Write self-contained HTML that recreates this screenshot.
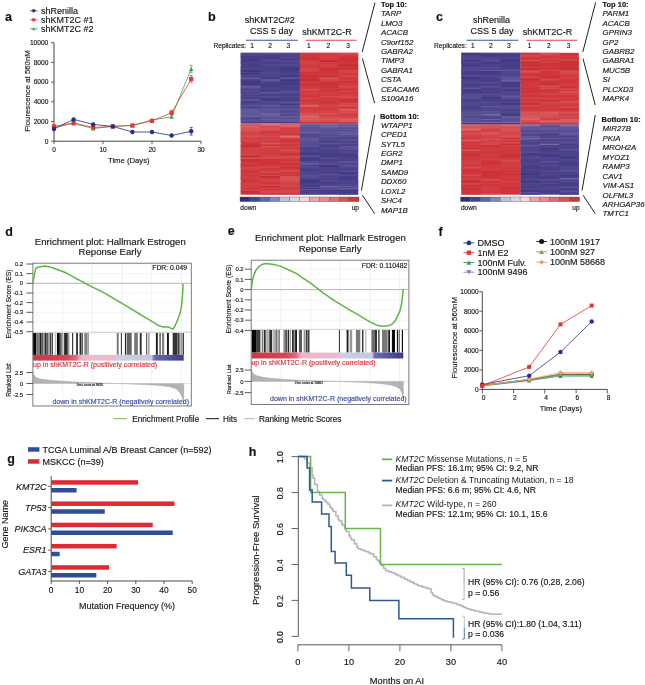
<!DOCTYPE html>
<html><head><meta charset="utf-8"><title>Figure</title>
<style>
html,body{margin:0;padding:0;background:#fff;width:645px;height:685px;overflow:hidden}
svg{display:block;filter:blur(0.4px)}
text{font-family:"Liberation Sans", sans-serif}
</style></head>
<body>
<svg width="645" height="685" viewBox="0 0 645 685">
<rect x="0" y="0" width="645" height="685" fill="#fff"/>
<text x="5.0" y="21.0" font-size="12.5" font-weight="bold" fill="#111" stroke="#111" stroke-width="0.15">a</text>
<line x1="30.0" y1="10.8" x2="37.5" y2="10.8" stroke="#262f86" stroke-width="0.8"/>
<circle cx="33.7" cy="10.8" r="1.7" fill="#262f86"/>
<text x="41.0" y="14.0" font-size="9" fill="#161616" stroke="#161616" stroke-width="0.15">shRenilla</text>
<line x1="30.0" y1="19.8" x2="37.5" y2="19.8" stroke="#e03a35" stroke-width="0.8"/>
<rect x="32.20" y="18.30" width="3.00" height="3.00" fill="#e03a35"/>
<text x="41.0" y="23.0" font-size="9" fill="#161616" stroke="#161616" stroke-width="0.15">shKMT2C #1</text>
<line x1="30.0" y1="28.8" x2="37.5" y2="28.8" stroke="#3f9d5b" stroke-width="0.8"/>
<polygon points="32.1,30.3 35.4,30.3 33.7,27.3" fill="#3f9d5b"/>
<text x="41.0" y="32.0" font-size="9" fill="#161616" stroke="#161616" stroke-width="0.15">shKMT2C #2</text>
<line x1="54.0" y1="42.7" x2="54.0" y2="141.2" stroke="#333" stroke-width="0.9"/>
<line x1="54.0" y1="141.2" x2="201.0" y2="141.2" stroke="#333" stroke-width="0.9"/>
<line x1="51.0" y1="141.2" x2="54.0" y2="141.2" stroke="#333" stroke-width="0.8"/>
<text x="48.3" y="143.5" font-size="6.6" text-anchor="end" fill="#161616" stroke="#161616" stroke-width="0.15">0</text>
<line x1="51.0" y1="121.5" x2="54.0" y2="121.5" stroke="#333" stroke-width="0.8"/>
<text x="48.3" y="123.8" font-size="6.6" text-anchor="end" fill="#161616" stroke="#161616" stroke-width="0.15">2000</text>
<line x1="51.0" y1="101.8" x2="54.0" y2="101.8" stroke="#333" stroke-width="0.8"/>
<text x="48.3" y="104.1" font-size="6.6" text-anchor="end" fill="#161616" stroke="#161616" stroke-width="0.15">4000</text>
<line x1="51.0" y1="82.1" x2="54.0" y2="82.1" stroke="#333" stroke-width="0.8"/>
<text x="48.3" y="84.4" font-size="6.6" text-anchor="end" fill="#161616" stroke="#161616" stroke-width="0.15">6000</text>
<line x1="51.0" y1="62.4" x2="54.0" y2="62.4" stroke="#333" stroke-width="0.8"/>
<text x="48.3" y="64.7" font-size="6.6" text-anchor="end" fill="#161616" stroke="#161616" stroke-width="0.15">8000</text>
<line x1="51.0" y1="42.7" x2="54.0" y2="42.7" stroke="#333" stroke-width="0.8"/>
<text x="48.3" y="45.0" font-size="6.6" text-anchor="end" fill="#161616" stroke="#161616" stroke-width="0.15">10000</text>
<line x1="54.0" y1="141.2" x2="54.0" y2="144.2" stroke="#333" stroke-width="0.8"/>
<text x="54.0" y="152.0" font-size="6.5" text-anchor="middle" fill="#161616" stroke="#161616" stroke-width="0.15">0</text>
<line x1="103.0" y1="141.2" x2="103.0" y2="144.2" stroke="#333" stroke-width="0.8"/>
<text x="103.0" y="152.0" font-size="6.5" text-anchor="middle" fill="#161616" stroke="#161616" stroke-width="0.15">10</text>
<line x1="152.0" y1="141.2" x2="152.0" y2="144.2" stroke="#333" stroke-width="0.8"/>
<text x="152.0" y="152.0" font-size="6.5" text-anchor="middle" fill="#161616" stroke="#161616" stroke-width="0.15">20</text>
<line x1="201.0" y1="141.2" x2="201.0" y2="144.2" stroke="#333" stroke-width="0.8"/>
<text x="201.0" y="152.0" font-size="6.5" text-anchor="middle" fill="#161616" stroke="#161616" stroke-width="0.15">30</text>
<text x="128.8" y="163.0" font-size="7.7" text-anchor="middle" fill="#161616" stroke="#161616" stroke-width="0.15">Time (Days)</text>
<text x="30.0" y="91.0" font-size="7.8" text-anchor="middle" fill="#161616" stroke="#161616" stroke-width="0.15" transform="rotate(-90 30.0 91.0)">Flourescence at 560nM</text>
<polyline points="54.0,127.5 73.6,123.4 93.2,128.5 112.8,126.4 132.4,125.4 152.0,119.9 171.6,116.9 191.2,68.9" fill="none" stroke="#3f9d5b" stroke-width="0.8"/>
<polygon points="51.8,129.4 56.2,129.4 54.0,125.5" fill="#3f9d5b"/>
<polygon points="71.4,125.4 75.8,125.4 73.6,121.4" fill="#3f9d5b"/>
<polygon points="91.0,130.4 95.4,130.4 93.2,126.5" fill="#3f9d5b"/>
<polygon points="110.6,128.4 115.0,128.4 112.8,124.5" fill="#3f9d5b"/>
<polygon points="130.2,127.4 134.6,127.4 132.4,123.5" fill="#3f9d5b"/>
<polygon points="149.8,121.9 154.2,121.9 152.0,117.9" fill="#3f9d5b"/>
<polygon points="169.4,118.8 173.8,118.8 171.6,114.9" fill="#3f9d5b"/>
<polygon points="189.0,70.9 193.4,70.9 191.2,66.9" fill="#3f9d5b"/>
<polyline points="54.0,126.4 73.6,122.9 93.2,127.5 112.8,126.4 132.4,125.4 152.0,120.9 171.6,112.8 191.2,79.0" fill="none" stroke="#e03a35" stroke-width="0.8"/>
<rect x="51.90" y="124.35" width="4.20" height="4.20" fill="#e03a35"/>
<rect x="71.50" y="120.81" width="4.20" height="4.20" fill="#e03a35"/>
<rect x="91.10" y="125.36" width="4.20" height="4.20" fill="#e03a35"/>
<rect x="110.70" y="124.35" width="4.20" height="4.20" fill="#e03a35"/>
<rect x="130.30" y="123.34" width="4.20" height="4.20" fill="#e03a35"/>
<rect x="149.90" y="118.80" width="4.20" height="4.20" fill="#e03a35"/>
<rect x="169.50" y="110.72" width="4.20" height="4.20" fill="#e03a35"/>
<rect x="189.10" y="76.88" width="4.20" height="4.20" fill="#e03a35"/>
<polyline points="54.0,129.0 73.6,119.4 93.2,124.4 112.8,126.4 132.4,132.0 152.0,132.0 171.6,135.5 191.2,131.3" fill="none" stroke="#262f86" stroke-width="0.8"/>
<circle cx="54.0" cy="129.0" r="2.2" fill="#262f86"/>
<circle cx="73.6" cy="119.4" r="2.2" fill="#262f86"/>
<circle cx="93.2" cy="124.4" r="2.2" fill="#262f86"/>
<circle cx="112.8" cy="126.4" r="2.2" fill="#262f86"/>
<circle cx="132.4" cy="132.0" r="2.2" fill="#262f86"/>
<circle cx="152.0" cy="132.0" r="2.2" fill="#262f86"/>
<circle cx="171.6" cy="135.5" r="2.2" fill="#262f86"/>
<circle cx="191.2" cy="131.3" r="2.2" fill="#262f86"/>
<line x1="191.2" y1="135.1" x2="191.2" y2="127.5" stroke="#262f86" stroke-width="0.7"/>
<line x1="189.7" y1="127.5" x2="192.7" y2="127.5" stroke="#262f86" stroke-width="0.7"/>
<line x1="189.7" y1="135.1" x2="192.7" y2="135.1" stroke="#262f86" stroke-width="0.7"/>
<line x1="191.2" y1="82.3" x2="191.2" y2="75.6" stroke="#e03a35" stroke-width="0.7"/>
<line x1="189.7" y1="75.6" x2="192.7" y2="75.6" stroke="#e03a35" stroke-width="0.7"/>
<line x1="189.7" y1="82.3" x2="192.7" y2="82.3" stroke="#e03a35" stroke-width="0.7"/>
<line x1="191.2" y1="72.4" x2="191.2" y2="65.3" stroke="#3f9d5b" stroke-width="0.7"/>
<line x1="189.7" y1="65.3" x2="192.7" y2="65.3" stroke="#3f9d5b" stroke-width="0.7"/>
<line x1="189.7" y1="72.4" x2="192.7" y2="72.4" stroke="#3f9d5b" stroke-width="0.7"/>
<line x1="171.6" y1="115.3" x2="171.6" y2="110.3" stroke="#e03a35" stroke-width="0.7"/>
<line x1="170.1" y1="110.3" x2="173.1" y2="110.3" stroke="#e03a35" stroke-width="0.7"/>
<line x1="170.1" y1="115.3" x2="173.1" y2="115.3" stroke="#e03a35" stroke-width="0.7"/>
<text x="208.0" y="21.0" font-size="12.5" font-weight="bold" fill="#111" stroke="#111" stroke-width="0.15">b</text>
<text x="269.8" y="23.0" font-size="9" text-anchor="middle" fill="#161616" stroke="#161616" stroke-width="0.15">shKMT2C#2</text>
<text x="271.5" y="33.9" font-size="9" text-anchor="middle" fill="#161616" stroke="#161616" stroke-width="0.15">CSS 5 day</text>
<text x="327.0" y="35.0" font-size="9" text-anchor="middle" fill="#161616" stroke="#161616" stroke-width="0.15">shKMT2C-R</text>
<line x1="246.0" y1="40.2" x2="297.8" y2="40.2" stroke="#3f55a5" stroke-width="1.1"/>
<line x1="305.8" y1="40.2" x2="356.8" y2="40.2" stroke="#e0494c" stroke-width="1.1"/>
<text x="213.5" y="48.3" font-size="6.6" fill="#161616" stroke="#161616" stroke-width="0.15">Replicates:</text>
<text x="252.2" y="48.3" font-size="6.6" text-anchor="middle" fill="#161616" stroke="#161616" stroke-width="0.15">1</text>
<text x="270.2" y="48.3" font-size="6.6" text-anchor="middle" fill="#161616" stroke="#161616" stroke-width="0.15">2</text>
<text x="288.3" y="48.3" font-size="6.6" text-anchor="middle" fill="#161616" stroke="#161616" stroke-width="0.15">3</text>
<text x="308.9" y="48.3" font-size="6.6" text-anchor="middle" fill="#161616" stroke="#161616" stroke-width="0.15">1</text>
<text x="328.3" y="48.3" font-size="6.6" text-anchor="middle" fill="#161616" stroke="#161616" stroke-width="0.15">2</text>
<text x="348.0" y="48.3" font-size="6.6" text-anchor="middle" fill="#161616" stroke="#161616" stroke-width="0.15">3</text>
<rect x="240.70" y="52.80" width="59.20" height="70.70" fill="#463c88"/>
<rect x="299.90" y="52.80" width="58.30" height="70.70" fill="#d03438"/>
<rect x="240.70" y="123.50" width="59.20" height="71.20" fill="#d03438"/>
<rect x="299.90" y="123.50" width="58.30" height="71.20" fill="#463c88"/>
<rect x="240.70" y="52.80" width="19.73" height="2.00" fill="#52488f"/>
<rect x="260.43" y="52.80" width="19.73" height="2.00" fill="#544b91"/>
<rect x="280.17" y="52.80" width="19.73" height="2.00" fill="#51478f"/>
<rect x="299.90" y="52.80" width="19.43" height="2.00" fill="#d0383c"/>
<rect x="319.33" y="52.80" width="19.43" height="2.00" fill="#d13c40"/>
<rect x="338.77" y="52.80" width="19.43" height="2.00" fill="#d4494c"/>
<rect x="240.70" y="54.80" width="19.73" height="1.00" fill="#584f93"/>
<rect x="280.17" y="54.80" width="19.73" height="1.00" fill="#51478f"/>
<rect x="319.33" y="54.80" width="19.43" height="1.00" fill="#d34448"/>
<rect x="338.77" y="54.80" width="19.43" height="1.00" fill="#d23c40"/>
<rect x="240.70" y="55.80" width="19.73" height="1.00" fill="#423981"/>
<rect x="280.17" y="55.80" width="19.73" height="1.00" fill="#4c428b"/>
<rect x="299.90" y="55.80" width="19.43" height="1.00" fill="#d23e42"/>
<rect x="319.33" y="55.80" width="19.43" height="1.00" fill="#d13b3f"/>
<rect x="240.70" y="56.80" width="19.73" height="1.00" fill="#554b91"/>
<rect x="280.17" y="56.80" width="19.73" height="1.00" fill="#564c92"/>
<rect x="299.90" y="56.80" width="19.43" height="1.00" fill="#c33034"/>
<rect x="319.33" y="56.80" width="19.43" height="1.00" fill="#d54b4e"/>
<rect x="338.77" y="56.80" width="19.43" height="1.00" fill="#d24044"/>
<rect x="240.70" y="57.80" width="19.73" height="1.00" fill="#443a84"/>
<rect x="260.43" y="57.80" width="19.73" height="1.00" fill="#443a84"/>
<rect x="280.17" y="57.80" width="19.73" height="1.00" fill="#50478e"/>
<rect x="299.90" y="57.80" width="19.43" height="1.00" fill="#d23d41"/>
<rect x="319.33" y="57.80" width="19.43" height="1.00" fill="#d1383c"/>
<rect x="338.77" y="57.80" width="19.43" height="1.00" fill="#c63135"/>
<rect x="260.43" y="58.80" width="19.73" height="1.50" fill="#524990"/>
<rect x="299.90" y="58.80" width="19.43" height="1.50" fill="#cb3236"/>
<rect x="319.33" y="58.80" width="19.43" height="1.50" fill="#d13b3f"/>
<rect x="338.77" y="58.80" width="19.43" height="1.50" fill="#c83236"/>
<rect x="240.70" y="60.30" width="19.73" height="2.00" fill="#443a85"/>
<rect x="260.43" y="60.30" width="19.73" height="2.00" fill="#50468e"/>
<rect x="280.17" y="60.30" width="19.73" height="2.00" fill="#524990"/>
<rect x="299.90" y="60.30" width="19.43" height="2.00" fill="#d34144"/>
<rect x="319.33" y="60.30" width="19.43" height="2.00" fill="#be2f33"/>
<rect x="240.70" y="62.30" width="19.73" height="1.00" fill="#524990"/>
<rect x="299.90" y="62.30" width="19.43" height="1.00" fill="#d4494c"/>
<rect x="319.33" y="62.30" width="19.43" height="1.00" fill="#d34448"/>
<rect x="240.70" y="63.30" width="19.73" height="1.00" fill="#4b428b"/>
<rect x="280.17" y="63.30" width="19.73" height="1.00" fill="#524990"/>
<rect x="299.90" y="63.30" width="19.43" height="1.00" fill="#d34347"/>
<rect x="338.77" y="63.30" width="19.43" height="1.00" fill="#d23e41"/>
<rect x="260.43" y="64.30" width="19.73" height="2.00" fill="#51488f"/>
<rect x="280.17" y="64.30" width="19.73" height="2.00" fill="#554c92"/>
<rect x="299.90" y="64.30" width="19.43" height="2.00" fill="#d23d41"/>
<rect x="319.33" y="64.30" width="19.43" height="2.00" fill="#d24044"/>
<rect x="338.77" y="64.30" width="19.43" height="2.00" fill="#c03033"/>
<rect x="240.70" y="66.30" width="19.73" height="1.50" fill="#4a408a"/>
<rect x="260.43" y="66.30" width="19.73" height="1.50" fill="#4a418b"/>
<rect x="280.17" y="66.30" width="19.73" height="1.50" fill="#4a408a"/>
<rect x="299.90" y="66.30" width="19.43" height="1.50" fill="#d1393c"/>
<rect x="319.33" y="66.30" width="19.43" height="1.50" fill="#d34246"/>
<rect x="338.77" y="66.30" width="19.43" height="1.50" fill="#d1393d"/>
<rect x="240.70" y="67.80" width="19.73" height="2.00" fill="#4f468e"/>
<rect x="260.43" y="67.80" width="19.73" height="2.00" fill="#4d438c"/>
<rect x="280.17" y="67.80" width="19.73" height="2.00" fill="#433982"/>
<rect x="299.90" y="67.80" width="19.43" height="2.00" fill="#d4484c"/>
<rect x="319.33" y="67.80" width="19.43" height="2.00" fill="#c83236"/>
<rect x="338.77" y="67.80" width="19.43" height="2.00" fill="#c93236"/>
<rect x="240.70" y="69.80" width="19.73" height="2.00" fill="#41387f"/>
<rect x="260.43" y="69.80" width="19.73" height="2.00" fill="#4b428b"/>
<rect x="299.90" y="69.80" width="19.43" height="2.00" fill="#d34448"/>
<rect x="338.77" y="69.80" width="19.43" height="2.00" fill="#d34548"/>
<rect x="240.70" y="71.80" width="19.73" height="1.50" fill="#4c438c"/>
<rect x="260.43" y="71.80" width="19.73" height="1.50" fill="#50478f"/>
<rect x="338.77" y="71.80" width="19.43" height="1.50" fill="#d34448"/>
<rect x="240.70" y="73.30" width="19.73" height="1.50" fill="#41387f"/>
<rect x="260.43" y="73.30" width="19.73" height="1.50" fill="#544b91"/>
<rect x="280.17" y="73.30" width="19.73" height="1.50" fill="#534990"/>
<rect x="319.33" y="73.30" width="19.43" height="1.50" fill="#d34144"/>
<rect x="338.77" y="73.30" width="19.43" height="1.50" fill="#d23e42"/>
<rect x="240.70" y="74.80" width="19.73" height="1.00" fill="#5a5195"/>
<rect x="260.43" y="74.80" width="19.73" height="1.00" fill="#4c438c"/>
<rect x="280.17" y="74.80" width="19.73" height="1.00" fill="#443a84"/>
<rect x="319.33" y="74.80" width="19.43" height="1.00" fill="#d13b3f"/>
<rect x="338.77" y="74.80" width="19.43" height="1.00" fill="#d34245"/>
<rect x="260.43" y="75.80" width="19.73" height="1.50" fill="#4e448d"/>
<rect x="299.90" y="75.80" width="19.43" height="1.50" fill="#cb3236"/>
<rect x="319.33" y="75.80" width="19.43" height="1.50" fill="#c83235"/>
<rect x="338.77" y="75.80" width="19.43" height="1.50" fill="#d5494d"/>
<rect x="240.70" y="77.30" width="19.73" height="2.00" fill="#615899"/>
<rect x="280.17" y="77.30" width="19.73" height="2.00" fill="#5c5396"/>
<rect x="319.33" y="77.30" width="19.43" height="2.00" fill="#d75458"/>
<rect x="240.70" y="79.30" width="19.73" height="1.50" fill="#50468e"/>
<rect x="260.43" y="79.30" width="19.73" height="1.50" fill="#6b639f"/>
<rect x="280.17" y="79.30" width="19.73" height="1.50" fill="#433a83"/>
<rect x="299.90" y="79.30" width="19.43" height="1.50" fill="#b92e31"/>
<rect x="319.33" y="79.30" width="19.43" height="1.50" fill="#d4474b"/>
<rect x="338.77" y="79.30" width="19.43" height="1.50" fill="#d34246"/>
<rect x="240.70" y="80.80" width="19.73" height="1.00" fill="#423981"/>
<rect x="260.43" y="80.80" width="19.73" height="1.00" fill="#564d92"/>
<rect x="299.90" y="80.80" width="19.43" height="1.00" fill="#d1393d"/>
<rect x="319.33" y="80.80" width="19.43" height="1.00" fill="#d34246"/>
<rect x="338.77" y="80.80" width="19.43" height="1.00" fill="#d1393d"/>
<rect x="260.43" y="81.80" width="19.73" height="1.00" fill="#52498f"/>
<rect x="299.90" y="81.80" width="19.43" height="1.00" fill="#d34246"/>
<rect x="338.77" y="81.80" width="19.43" height="1.00" fill="#c43134"/>
<rect x="240.70" y="82.80" width="19.73" height="2.00" fill="#423881"/>
<rect x="280.17" y="82.80" width="19.73" height="2.00" fill="#443a84"/>
<rect x="319.33" y="82.80" width="19.43" height="2.00" fill="#ca3236"/>
<rect x="338.77" y="82.80" width="19.43" height="2.00" fill="#d23d41"/>
<rect x="280.17" y="84.80" width="19.73" height="1.00" fill="#4c428c"/>
<rect x="299.90" y="84.80" width="19.43" height="1.00" fill="#ca3236"/>
<rect x="319.33" y="84.80" width="19.43" height="1.00" fill="#d13a3e"/>
<rect x="338.77" y="84.80" width="19.43" height="1.00" fill="#d13a3e"/>
<rect x="240.70" y="85.80" width="19.73" height="2.00" fill="#655d9c"/>
<rect x="280.17" y="85.80" width="19.73" height="2.00" fill="#4b418b"/>
<rect x="299.90" y="85.80" width="19.43" height="2.00" fill="#d23f43"/>
<rect x="319.33" y="85.80" width="19.43" height="2.00" fill="#cb3236"/>
<rect x="338.77" y="85.80" width="19.43" height="2.00" fill="#d54d50"/>
<rect x="240.70" y="87.80" width="19.73" height="1.00" fill="#595094"/>
<rect x="260.43" y="87.80" width="19.73" height="1.00" fill="#544a91"/>
<rect x="280.17" y="87.80" width="19.73" height="1.00" fill="#4b418b"/>
<rect x="299.90" y="87.80" width="19.43" height="1.00" fill="#d1393d"/>
<rect x="319.33" y="87.80" width="19.43" height="1.00" fill="#d23e42"/>
<rect x="338.77" y="87.80" width="19.43" height="1.00" fill="#d23e42"/>
<rect x="240.70" y="88.80" width="19.73" height="2.00" fill="#50478f"/>
<rect x="280.17" y="88.80" width="19.73" height="2.00" fill="#4a408a"/>
<rect x="299.90" y="88.80" width="19.43" height="2.00" fill="#d64f52"/>
<rect x="240.70" y="90.80" width="19.73" height="1.00" fill="#595094"/>
<rect x="280.17" y="90.80" width="19.73" height="1.00" fill="#605798"/>
<rect x="319.33" y="90.80" width="19.43" height="1.00" fill="#d1393c"/>
<rect x="338.77" y="90.80" width="19.43" height="1.00" fill="#d75659"/>
<rect x="240.70" y="91.80" width="19.73" height="2.00" fill="#4f468e"/>
<rect x="260.43" y="91.80" width="19.73" height="2.00" fill="#605798"/>
<rect x="280.17" y="91.80" width="19.73" height="2.00" fill="#544b91"/>
<rect x="299.90" y="91.80" width="19.43" height="2.00" fill="#d34246"/>
<rect x="319.33" y="91.80" width="19.43" height="2.00" fill="#d23f43"/>
<rect x="338.77" y="91.80" width="19.43" height="2.00" fill="#d1383c"/>
<rect x="240.70" y="93.80" width="19.73" height="1.00" fill="#5b5396"/>
<rect x="260.43" y="93.80" width="19.73" height="1.00" fill="#4a408a"/>
<rect x="280.17" y="93.80" width="19.73" height="1.00" fill="#4e448d"/>
<rect x="299.90" y="93.80" width="19.43" height="1.00" fill="#d23f43"/>
<rect x="319.33" y="93.80" width="19.43" height="1.00" fill="#d34145"/>
<rect x="338.77" y="93.80" width="19.43" height="1.00" fill="#d34448"/>
<rect x="299.90" y="94.80" width="19.43" height="1.00" fill="#d1383c"/>
<rect x="338.77" y="94.80" width="19.43" height="1.00" fill="#d34448"/>
<rect x="240.70" y="95.80" width="19.73" height="1.50" fill="#51488f"/>
<rect x="260.43" y="95.80" width="19.73" height="1.50" fill="#544b91"/>
<rect x="280.17" y="95.80" width="19.73" height="1.50" fill="#534a90"/>
<rect x="319.33" y="95.80" width="19.43" height="1.50" fill="#d54b4e"/>
<rect x="338.77" y="95.80" width="19.43" height="1.50" fill="#d4464a"/>
<rect x="240.70" y="97.30" width="19.73" height="1.00" fill="#51478f"/>
<rect x="260.43" y="97.30" width="19.73" height="1.00" fill="#5a5195"/>
<rect x="280.17" y="97.30" width="19.73" height="1.00" fill="#4c428b"/>
<rect x="299.90" y="97.30" width="19.43" height="1.00" fill="#d34246"/>
<rect x="319.33" y="97.30" width="19.43" height="1.00" fill="#d23f43"/>
<rect x="338.77" y="97.30" width="19.43" height="1.00" fill="#d8595c"/>
<rect x="260.43" y="98.30" width="19.73" height="1.00" fill="#3f367b"/>
<rect x="280.17" y="98.30" width="19.73" height="1.00" fill="#51478f"/>
<rect x="299.90" y="98.30" width="19.43" height="1.00" fill="#d64e51"/>
<rect x="319.33" y="98.30" width="19.43" height="1.00" fill="#d34145"/>
<rect x="338.77" y="98.30" width="19.43" height="1.00" fill="#d1393d"/>
<rect x="240.70" y="99.30" width="19.73" height="1.50" fill="#635a9a"/>
<rect x="260.43" y="99.30" width="19.73" height="1.50" fill="#443a84"/>
<rect x="280.17" y="99.30" width="19.73" height="1.50" fill="#4c428b"/>
<rect x="319.33" y="99.30" width="19.43" height="1.50" fill="#d13b3f"/>
<rect x="338.77" y="99.30" width="19.43" height="1.50" fill="#cb3236"/>
<rect x="260.43" y="100.80" width="19.73" height="1.00" fill="#51488f"/>
<rect x="280.17" y="100.80" width="19.73" height="1.00" fill="#4f458e"/>
<rect x="299.90" y="100.80" width="19.43" height="1.00" fill="#d13c40"/>
<rect x="319.33" y="100.80" width="19.43" height="1.00" fill="#d24044"/>
<rect x="338.77" y="100.80" width="19.43" height="1.00" fill="#cb3236"/>
<rect x="240.70" y="101.80" width="19.73" height="1.00" fill="#4b428b"/>
<rect x="260.43" y="101.80" width="19.73" height="1.00" fill="#595094"/>
<rect x="280.17" y="101.80" width="19.73" height="1.00" fill="#68609e"/>
<rect x="299.90" y="101.80" width="19.43" height="1.00" fill="#d4474b"/>
<rect x="319.33" y="101.80" width="19.43" height="1.00" fill="#ca3236"/>
<rect x="338.77" y="101.80" width="19.43" height="1.00" fill="#d23c40"/>
<rect x="240.70" y="102.80" width="19.73" height="1.00" fill="#51488f"/>
<rect x="260.43" y="102.80" width="19.73" height="1.00" fill="#4e458d"/>
<rect x="280.17" y="102.80" width="19.73" height="1.00" fill="#564d92"/>
<rect x="299.90" y="102.80" width="19.43" height="1.00" fill="#d23d41"/>
<rect x="319.33" y="102.80" width="19.43" height="1.00" fill="#d13b3f"/>
<rect x="338.77" y="102.80" width="19.43" height="1.00" fill="#d64e52"/>
<rect x="240.70" y="103.80" width="19.73" height="1.00" fill="#524990"/>
<rect x="260.43" y="103.80" width="19.73" height="1.00" fill="#564d92"/>
<rect x="280.17" y="103.80" width="19.73" height="1.00" fill="#433982"/>
<rect x="299.90" y="103.80" width="19.43" height="1.00" fill="#d34346"/>
<rect x="319.33" y="103.80" width="19.43" height="1.00" fill="#d24044"/>
<rect x="338.77" y="103.80" width="19.43" height="1.00" fill="#d4494d"/>
<rect x="240.70" y="104.80" width="19.73" height="2.00" fill="#5a5195"/>
<rect x="260.43" y="104.80" width="19.73" height="2.00" fill="#605899"/>
<rect x="280.17" y="104.80" width="19.73" height="2.00" fill="#584f94"/>
<rect x="299.90" y="104.80" width="19.43" height="2.00" fill="#da6366"/>
<rect x="319.33" y="104.80" width="19.43" height="2.00" fill="#d34448"/>
<rect x="338.77" y="104.80" width="19.43" height="2.00" fill="#d64f53"/>
<rect x="240.70" y="106.80" width="19.73" height="1.00" fill="#51478f"/>
<rect x="260.43" y="106.80" width="19.73" height="1.00" fill="#5b5396"/>
<rect x="280.17" y="106.80" width="19.73" height="1.00" fill="#564d92"/>
<rect x="299.90" y="106.80" width="19.43" height="1.00" fill="#d4494c"/>
<rect x="319.33" y="106.80" width="19.43" height="1.00" fill="#d34144"/>
<rect x="240.70" y="107.80" width="19.73" height="1.00" fill="#554b91"/>
<rect x="260.43" y="107.80" width="19.73" height="1.00" fill="#5b5295"/>
<rect x="280.17" y="107.80" width="19.73" height="1.00" fill="#595094"/>
<rect x="319.33" y="107.80" width="19.43" height="1.00" fill="#d24044"/>
<rect x="338.77" y="107.80" width="19.43" height="1.00" fill="#d23e41"/>
<rect x="240.70" y="108.80" width="19.73" height="2.00" fill="#645c9b"/>
<rect x="260.43" y="108.80" width="19.73" height="2.00" fill="#615899"/>
<rect x="280.17" y="108.80" width="19.73" height="2.00" fill="#5c5396"/>
<rect x="299.90" y="108.80" width="19.43" height="2.00" fill="#d34347"/>
<rect x="319.33" y="108.80" width="19.43" height="2.00" fill="#d24044"/>
<rect x="338.77" y="108.80" width="19.43" height="2.00" fill="#d95e61"/>
<rect x="240.70" y="110.80" width="19.73" height="1.00" fill="#68609e"/>
<rect x="260.43" y="110.80" width="19.73" height="1.00" fill="#605899"/>
<rect x="280.17" y="110.80" width="19.73" height="1.00" fill="#564d92"/>
<rect x="299.90" y="110.80" width="19.43" height="1.00" fill="#d34346"/>
<rect x="319.33" y="110.80" width="19.43" height="1.00" fill="#d54c4f"/>
<rect x="338.77" y="110.80" width="19.43" height="1.00" fill="#d54d51"/>
<rect x="240.70" y="111.80" width="19.73" height="1.00" fill="#6d65a1"/>
<rect x="260.43" y="111.80" width="19.73" height="1.00" fill="#595094"/>
<rect x="280.17" y="111.80" width="19.73" height="1.00" fill="#564d92"/>
<rect x="299.90" y="111.80" width="19.43" height="1.00" fill="#d44649"/>
<rect x="319.33" y="111.80" width="19.43" height="1.00" fill="#d34145"/>
<rect x="338.77" y="111.80" width="19.43" height="1.00" fill="#da5f62"/>
<rect x="240.70" y="112.80" width="19.73" height="1.50" fill="#5f5698"/>
<rect x="260.43" y="112.80" width="19.73" height="1.50" fill="#7169a3"/>
<rect x="280.17" y="112.80" width="19.73" height="1.50" fill="#5f5698"/>
<rect x="299.90" y="112.80" width="19.43" height="1.50" fill="#d64f52"/>
<rect x="319.33" y="112.80" width="19.43" height="1.50" fill="#d85a5d"/>
<rect x="338.77" y="112.80" width="19.43" height="1.50" fill="#d34448"/>
<rect x="240.70" y="114.30" width="19.73" height="1.50" fill="#685f9d"/>
<rect x="260.43" y="114.30" width="19.73" height="1.50" fill="#736ba5"/>
<rect x="280.17" y="114.30" width="19.73" height="1.50" fill="#534a90"/>
<rect x="299.90" y="114.30" width="19.43" height="1.50" fill="#d95e61"/>
<rect x="319.33" y="114.30" width="19.43" height="1.50" fill="#d4484b"/>
<rect x="338.77" y="114.30" width="19.43" height="1.50" fill="#d34447"/>
<rect x="240.70" y="115.80" width="19.73" height="1.50" fill="#665e9d"/>
<rect x="260.43" y="115.80" width="19.73" height="1.50" fill="#635a9a"/>
<rect x="280.17" y="115.80" width="19.73" height="1.50" fill="#645c9b"/>
<rect x="299.90" y="115.80" width="19.43" height="1.50" fill="#dc686b"/>
<rect x="319.33" y="115.80" width="19.43" height="1.50" fill="#d4494c"/>
<rect x="338.77" y="115.80" width="19.43" height="1.50" fill="#d44549"/>
<rect x="240.70" y="117.30" width="19.73" height="1.00" fill="#595094"/>
<rect x="260.43" y="117.30" width="19.73" height="1.00" fill="#605899"/>
<rect x="280.17" y="117.30" width="19.73" height="1.00" fill="#62599a"/>
<rect x="299.90" y="117.30" width="19.43" height="1.00" fill="#dc6a6d"/>
<rect x="319.33" y="117.30" width="19.43" height="1.00" fill="#d95b5e"/>
<rect x="338.77" y="117.30" width="19.43" height="1.00" fill="#d64e51"/>
<rect x="240.70" y="118.30" width="19.73" height="2.00" fill="#554b91"/>
<rect x="260.43" y="118.30" width="19.73" height="2.00" fill="#665e9c"/>
<rect x="280.17" y="118.30" width="19.73" height="2.00" fill="#625a9a"/>
<rect x="299.90" y="118.30" width="19.43" height="2.00" fill="#da6063"/>
<rect x="319.33" y="118.30" width="19.43" height="2.00" fill="#d95c5f"/>
<rect x="338.77" y="118.30" width="19.43" height="2.00" fill="#da6165"/>
<rect x="240.70" y="120.30" width="19.73" height="1.50" fill="#605899"/>
<rect x="260.43" y="120.30" width="19.73" height="1.50" fill="#5f5798"/>
<rect x="280.17" y="120.30" width="19.73" height="1.50" fill="#6a629f"/>
<rect x="299.90" y="120.30" width="19.43" height="1.50" fill="#d95e61"/>
<rect x="319.33" y="120.30" width="19.43" height="1.50" fill="#d75558"/>
<rect x="338.77" y="120.30" width="19.43" height="1.50" fill="#db6669"/>
<rect x="240.70" y="123.50" width="19.73" height="1.50" fill="#d95e61"/>
<rect x="260.43" y="123.50" width="19.73" height="1.50" fill="#de7073"/>
<rect x="280.17" y="123.50" width="19.73" height="1.50" fill="#da5f62"/>
<rect x="299.90" y="123.50" width="19.43" height="1.50" fill="#6d65a1"/>
<rect x="319.33" y="123.50" width="19.43" height="1.50" fill="#746da5"/>
<rect x="338.77" y="123.50" width="19.43" height="1.50" fill="#665e9d"/>
<rect x="240.70" y="125.00" width="19.73" height="1.00" fill="#d65255"/>
<rect x="260.43" y="125.00" width="19.73" height="1.00" fill="#db6467"/>
<rect x="280.17" y="125.00" width="19.73" height="1.00" fill="#dc696c"/>
<rect x="299.90" y="125.00" width="19.43" height="1.00" fill="#62599a"/>
<rect x="319.33" y="125.00" width="19.43" height="1.00" fill="#68609e"/>
<rect x="338.77" y="125.00" width="19.43" height="1.00" fill="#665d9c"/>
<rect x="240.70" y="126.00" width="19.73" height="1.50" fill="#da6366"/>
<rect x="260.43" y="126.00" width="19.73" height="1.50" fill="#d44649"/>
<rect x="280.17" y="126.00" width="19.73" height="1.50" fill="#da6164"/>
<rect x="299.90" y="126.00" width="19.43" height="1.50" fill="#635b9b"/>
<rect x="319.33" y="126.00" width="19.43" height="1.50" fill="#726aa4"/>
<rect x="338.77" y="126.00" width="19.43" height="1.50" fill="#69619e"/>
<rect x="240.70" y="127.50" width="19.73" height="1.00" fill="#db676a"/>
<rect x="260.43" y="127.50" width="19.73" height="1.00" fill="#da6265"/>
<rect x="280.17" y="127.50" width="19.73" height="1.00" fill="#d54a4d"/>
<rect x="299.90" y="127.50" width="19.43" height="1.00" fill="#655d9c"/>
<rect x="319.33" y="127.50" width="19.43" height="1.00" fill="#6c64a0"/>
<rect x="338.77" y="127.50" width="19.43" height="1.00" fill="#5e5697"/>
<rect x="240.70" y="128.50" width="19.73" height="2.00" fill="#d8595c"/>
<rect x="260.43" y="128.50" width="19.73" height="2.00" fill="#d75558"/>
<rect x="280.17" y="128.50" width="19.73" height="2.00" fill="#d24044"/>
<rect x="299.90" y="128.50" width="19.43" height="2.00" fill="#5e5597"/>
<rect x="319.33" y="128.50" width="19.43" height="2.00" fill="#5d5597"/>
<rect x="338.77" y="128.50" width="19.43" height="2.00" fill="#605798"/>
<rect x="240.70" y="130.50" width="19.73" height="1.00" fill="#d8595c"/>
<rect x="260.43" y="130.50" width="19.73" height="1.00" fill="#d54b4e"/>
<rect x="280.17" y="130.50" width="19.73" height="1.00" fill="#d5494d"/>
<rect x="299.90" y="130.50" width="19.43" height="1.00" fill="#5a5295"/>
<rect x="319.33" y="130.50" width="19.43" height="1.00" fill="#625a9a"/>
<rect x="338.77" y="130.50" width="19.43" height="1.00" fill="#5d5597"/>
<rect x="240.70" y="131.50" width="19.73" height="2.00" fill="#d4494d"/>
<rect x="260.43" y="131.50" width="19.73" height="2.00" fill="#d13b3f"/>
<rect x="280.17" y="131.50" width="19.73" height="2.00" fill="#d34145"/>
<rect x="299.90" y="131.50" width="19.43" height="2.00" fill="#6d65a1"/>
<rect x="319.33" y="131.50" width="19.43" height="2.00" fill="#615999"/>
<rect x="338.77" y="131.50" width="19.43" height="2.00" fill="#665e9c"/>
<rect x="240.70" y="133.50" width="19.73" height="2.00" fill="#d44549"/>
<rect x="260.43" y="133.50" width="19.73" height="2.00" fill="#d34347"/>
<rect x="280.17" y="133.50" width="19.73" height="2.00" fill="#d1383c"/>
<rect x="299.90" y="133.50" width="19.43" height="2.00" fill="#534a90"/>
<rect x="319.33" y="133.50" width="19.43" height="2.00" fill="#5d5497"/>
<rect x="338.77" y="133.50" width="19.43" height="2.00" fill="#69619e"/>
<rect x="240.70" y="135.50" width="19.73" height="2.00" fill="#d65154"/>
<rect x="260.43" y="135.50" width="19.73" height="2.00" fill="#d54d50"/>
<rect x="280.17" y="135.50" width="19.73" height="2.00" fill="#de7073"/>
<rect x="299.90" y="135.50" width="19.43" height="2.00" fill="#544b91"/>
<rect x="319.33" y="135.50" width="19.43" height="2.00" fill="#5c5496"/>
<rect x="338.77" y="135.50" width="19.43" height="2.00" fill="#595094"/>
<rect x="240.70" y="137.50" width="19.73" height="1.50" fill="#d34145"/>
<rect x="260.43" y="137.50" width="19.73" height="1.50" fill="#d34044"/>
<rect x="280.17" y="137.50" width="19.73" height="1.50" fill="#d54c50"/>
<rect x="299.90" y="137.50" width="19.43" height="1.50" fill="#605798"/>
<rect x="319.33" y="137.50" width="19.43" height="1.50" fill="#50478e"/>
<rect x="338.77" y="137.50" width="19.43" height="1.50" fill="#4c428c"/>
<rect x="240.70" y="139.00" width="19.73" height="2.00" fill="#d34448"/>
<rect x="260.43" y="139.00" width="19.73" height="2.00" fill="#d34246"/>
<rect x="299.90" y="139.00" width="19.43" height="2.00" fill="#5c5496"/>
<rect x="319.33" y="139.00" width="19.43" height="2.00" fill="#50478e"/>
<rect x="338.77" y="139.00" width="19.43" height="2.00" fill="#584f93"/>
<rect x="240.70" y="141.00" width="19.73" height="1.50" fill="#d34347"/>
<rect x="260.43" y="141.00" width="19.73" height="1.50" fill="#d13b3f"/>
<rect x="299.90" y="141.00" width="19.43" height="1.50" fill="#5b5295"/>
<rect x="338.77" y="141.00" width="19.43" height="1.50" fill="#4c428c"/>
<rect x="260.43" y="142.50" width="19.73" height="2.00" fill="#d75659"/>
<rect x="280.17" y="142.50" width="19.73" height="2.00" fill="#d34448"/>
<rect x="299.90" y="142.50" width="19.43" height="2.00" fill="#564d92"/>
<rect x="319.33" y="142.50" width="19.43" height="2.00" fill="#595094"/>
<rect x="338.77" y="142.50" width="19.43" height="2.00" fill="#574e93"/>
<rect x="240.70" y="144.50" width="19.73" height="1.50" fill="#cb3236"/>
<rect x="299.90" y="144.50" width="19.43" height="1.50" fill="#595094"/>
<rect x="338.77" y="144.50" width="19.43" height="1.50" fill="#493f8a"/>
<rect x="240.70" y="146.00" width="19.73" height="1.50" fill="#bf2f33"/>
<rect x="260.43" y="146.00" width="19.73" height="1.50" fill="#d75357"/>
<rect x="280.17" y="146.00" width="19.73" height="1.50" fill="#d34448"/>
<rect x="299.90" y="146.00" width="19.43" height="1.50" fill="#5b5295"/>
<rect x="319.33" y="146.00" width="19.43" height="1.50" fill="#4a408a"/>
<rect x="338.77" y="146.00" width="19.43" height="1.50" fill="#5f5798"/>
<rect x="240.70" y="147.50" width="19.73" height="2.00" fill="#d34448"/>
<rect x="260.43" y="147.50" width="19.73" height="2.00" fill="#d34144"/>
<rect x="280.17" y="147.50" width="19.73" height="2.00" fill="#d13c40"/>
<rect x="299.90" y="147.50" width="19.43" height="2.00" fill="#4b428b"/>
<rect x="319.33" y="147.50" width="19.43" height="2.00" fill="#554c91"/>
<rect x="338.77" y="147.50" width="19.43" height="2.00" fill="#5d5497"/>
<rect x="240.70" y="149.50" width="19.73" height="1.00" fill="#d24043"/>
<rect x="260.43" y="149.50" width="19.73" height="1.00" fill="#d23f43"/>
<rect x="280.17" y="149.50" width="19.73" height="1.00" fill="#d8575a"/>
<rect x="299.90" y="149.50" width="19.43" height="1.00" fill="#554c91"/>
<rect x="338.77" y="149.50" width="19.43" height="1.00" fill="#584f93"/>
<rect x="240.70" y="150.50" width="19.73" height="1.00" fill="#d44649"/>
<rect x="260.43" y="150.50" width="19.73" height="1.00" fill="#d4474b"/>
<rect x="280.17" y="150.50" width="19.73" height="1.00" fill="#d54d50"/>
<rect x="299.90" y="150.50" width="19.43" height="1.00" fill="#534a90"/>
<rect x="319.33" y="150.50" width="19.43" height="1.00" fill="#4f468e"/>
<rect x="338.77" y="150.50" width="19.43" height="1.00" fill="#4b418b"/>
<rect x="240.70" y="151.50" width="19.73" height="1.00" fill="#d34347"/>
<rect x="260.43" y="151.50" width="19.73" height="1.00" fill="#d34347"/>
<rect x="280.17" y="151.50" width="19.73" height="1.00" fill="#d64e51"/>
<rect x="319.33" y="151.50" width="19.43" height="1.00" fill="#51478f"/>
<rect x="338.77" y="151.50" width="19.43" height="1.00" fill="#5b5295"/>
<rect x="240.70" y="152.50" width="19.73" height="1.00" fill="#d4464a"/>
<rect x="260.43" y="152.50" width="19.73" height="1.00" fill="#d13c40"/>
<rect x="299.90" y="152.50" width="19.43" height="1.00" fill="#4a408a"/>
<rect x="338.77" y="152.50" width="19.43" height="1.00" fill="#50468e"/>
<rect x="240.70" y="153.50" width="19.73" height="1.50" fill="#d44549"/>
<rect x="260.43" y="153.50" width="19.73" height="1.50" fill="#d23f43"/>
<rect x="280.17" y="153.50" width="19.73" height="1.50" fill="#ca3236"/>
<rect x="240.70" y="155.00" width="19.73" height="1.00" fill="#d23f43"/>
<rect x="260.43" y="155.00" width="19.73" height="1.00" fill="#d34447"/>
<rect x="280.17" y="155.00" width="19.73" height="1.00" fill="#d13a3e"/>
<rect x="299.90" y="155.00" width="19.43" height="1.00" fill="#544b91"/>
<rect x="240.70" y="156.00" width="19.73" height="1.00" fill="#b92e31"/>
<rect x="260.43" y="156.00" width="19.73" height="1.00" fill="#d34246"/>
<rect x="280.17" y="156.00" width="19.73" height="1.00" fill="#d4494c"/>
<rect x="299.90" y="156.00" width="19.43" height="1.00" fill="#5c5396"/>
<rect x="338.77" y="156.00" width="19.43" height="1.00" fill="#433a83"/>
<rect x="240.70" y="157.00" width="19.73" height="2.00" fill="#d4494c"/>
<rect x="260.43" y="157.00" width="19.73" height="2.00" fill="#d54c4f"/>
<rect x="280.17" y="157.00" width="19.73" height="2.00" fill="#d44549"/>
<rect x="319.33" y="157.00" width="19.43" height="2.00" fill="#52488f"/>
<rect x="338.77" y="157.00" width="19.43" height="2.00" fill="#4c428c"/>
<rect x="240.70" y="159.00" width="19.73" height="2.00" fill="#c83236"/>
<rect x="319.33" y="159.00" width="19.43" height="2.00" fill="#4b428b"/>
<rect x="338.77" y="159.00" width="19.43" height="2.00" fill="#4b428b"/>
<rect x="280.17" y="161.00" width="19.73" height="2.00" fill="#d34145"/>
<rect x="299.90" y="161.00" width="19.43" height="2.00" fill="#544b91"/>
<rect x="319.33" y="161.00" width="19.43" height="2.00" fill="#52488f"/>
<rect x="338.77" y="161.00" width="19.43" height="2.00" fill="#5c5396"/>
<rect x="240.70" y="163.00" width="19.73" height="2.00" fill="#d13a3e"/>
<rect x="280.17" y="163.00" width="19.73" height="2.00" fill="#c93236"/>
<rect x="299.90" y="163.00" width="19.43" height="2.00" fill="#615899"/>
<rect x="319.33" y="163.00" width="19.43" height="2.00" fill="#564d92"/>
<rect x="338.77" y="163.00" width="19.43" height="2.00" fill="#4f458e"/>
<rect x="240.70" y="165.00" width="19.73" height="1.50" fill="#c73135"/>
<rect x="260.43" y="165.00" width="19.73" height="1.50" fill="#d13b3e"/>
<rect x="280.17" y="165.00" width="19.73" height="1.50" fill="#d23e42"/>
<rect x="299.90" y="165.00" width="19.43" height="1.50" fill="#4f458d"/>
<rect x="319.33" y="165.00" width="19.43" height="1.50" fill="#423981"/>
<rect x="338.77" y="165.00" width="19.43" height="1.50" fill="#5d5496"/>
<rect x="240.70" y="166.50" width="19.73" height="1.00" fill="#d54c4f"/>
<rect x="260.43" y="166.50" width="19.73" height="1.00" fill="#d75558"/>
<rect x="299.90" y="166.50" width="19.43" height="1.00" fill="#5a5295"/>
<rect x="319.33" y="166.50" width="19.43" height="1.00" fill="#433982"/>
<rect x="338.77" y="166.50" width="19.43" height="1.00" fill="#554c91"/>
<rect x="240.70" y="167.50" width="19.73" height="1.00" fill="#d44649"/>
<rect x="280.17" y="167.50" width="19.73" height="1.00" fill="#c23034"/>
<rect x="299.90" y="167.50" width="19.43" height="1.00" fill="#534a90"/>
<rect x="319.33" y="167.50" width="19.43" height="1.00" fill="#544b91"/>
<rect x="338.77" y="167.50" width="19.43" height="1.00" fill="#51478f"/>
<rect x="240.70" y="168.50" width="19.73" height="1.00" fill="#d54b4e"/>
<rect x="260.43" y="168.50" width="19.73" height="1.00" fill="#d13c40"/>
<rect x="280.17" y="168.50" width="19.73" height="1.00" fill="#d0383c"/>
<rect x="338.77" y="168.50" width="19.43" height="1.00" fill="#4f468e"/>
<rect x="260.43" y="169.50" width="19.73" height="1.00" fill="#d24044"/>
<rect x="280.17" y="169.50" width="19.73" height="1.00" fill="#d34448"/>
<rect x="299.90" y="169.50" width="19.43" height="1.00" fill="#4a408a"/>
<rect x="319.33" y="169.50" width="19.43" height="1.00" fill="#534990"/>
<rect x="240.70" y="170.50" width="19.73" height="1.50" fill="#d1393d"/>
<rect x="260.43" y="170.50" width="19.73" height="1.50" fill="#d24044"/>
<rect x="280.17" y="170.50" width="19.73" height="1.50" fill="#d54d50"/>
<rect x="299.90" y="170.50" width="19.43" height="1.50" fill="#49408a"/>
<rect x="319.33" y="170.50" width="19.43" height="1.50" fill="#4e448d"/>
<rect x="338.77" y="170.50" width="19.43" height="1.50" fill="#595194"/>
<rect x="260.43" y="172.00" width="19.73" height="1.00" fill="#d65053"/>
<rect x="299.90" y="172.00" width="19.43" height="1.00" fill="#5a5194"/>
<rect x="338.77" y="172.00" width="19.43" height="1.00" fill="#423981"/>
<rect x="240.70" y="173.00" width="19.73" height="1.00" fill="#d23d41"/>
<rect x="319.33" y="173.00" width="19.43" height="1.00" fill="#534a90"/>
<rect x="240.70" y="174.00" width="19.73" height="1.00" fill="#d23d41"/>
<rect x="280.17" y="174.00" width="19.73" height="1.00" fill="#d34145"/>
<rect x="299.90" y="174.00" width="19.43" height="1.00" fill="#554b91"/>
<rect x="319.33" y="174.00" width="19.43" height="1.00" fill="#554c92"/>
<rect x="338.77" y="174.00" width="19.43" height="1.00" fill="#4f468e"/>
<rect x="260.43" y="175.00" width="19.73" height="1.00" fill="#d4474a"/>
<rect x="299.90" y="175.00" width="19.43" height="1.00" fill="#574d92"/>
<rect x="319.33" y="175.00" width="19.43" height="1.00" fill="#50468e"/>
<rect x="338.77" y="175.00" width="19.43" height="1.00" fill="#52498f"/>
<rect x="240.70" y="176.00" width="19.73" height="2.00" fill="#d23d40"/>
<rect x="260.43" y="176.00" width="19.73" height="2.00" fill="#c33034"/>
<rect x="280.17" y="176.00" width="19.73" height="2.00" fill="#d65054"/>
<rect x="299.90" y="176.00" width="19.43" height="2.00" fill="#554c91"/>
<rect x="319.33" y="176.00" width="19.43" height="2.00" fill="#4e458d"/>
<rect x="240.70" y="178.00" width="19.73" height="2.00" fill="#d23c40"/>
<rect x="260.43" y="178.00" width="19.73" height="2.00" fill="#d13c3f"/>
<rect x="280.17" y="178.00" width="19.73" height="2.00" fill="#d75356"/>
<rect x="299.90" y="178.00" width="19.43" height="2.00" fill="#4c428b"/>
<rect x="319.33" y="178.00" width="19.43" height="2.00" fill="#4d438c"/>
<rect x="260.43" y="180.00" width="19.73" height="2.00" fill="#d34246"/>
<rect x="280.17" y="180.00" width="19.73" height="2.00" fill="#d54d51"/>
<rect x="299.90" y="180.00" width="19.43" height="2.00" fill="#413880"/>
<rect x="319.33" y="180.00" width="19.43" height="2.00" fill="#50478f"/>
<rect x="338.77" y="180.00" width="19.43" height="2.00" fill="#4e448d"/>
<rect x="240.70" y="182.00" width="19.73" height="1.50" fill="#d23f43"/>
<rect x="280.17" y="182.00" width="19.73" height="1.50" fill="#d5494d"/>
<rect x="299.90" y="182.00" width="19.43" height="1.50" fill="#433a84"/>
<rect x="338.77" y="182.00" width="19.43" height="1.50" fill="#49408a"/>
<rect x="240.70" y="183.50" width="19.73" height="1.50" fill="#d44549"/>
<rect x="260.43" y="183.50" width="19.73" height="1.50" fill="#d23e41"/>
<rect x="280.17" y="183.50" width="19.73" height="1.50" fill="#d23f43"/>
<rect x="299.90" y="183.50" width="19.43" height="1.50" fill="#4d438c"/>
<rect x="319.33" y="183.50" width="19.43" height="1.50" fill="#4b418b"/>
<rect x="338.77" y="183.50" width="19.43" height="1.50" fill="#524990"/>
<rect x="260.43" y="185.00" width="19.73" height="1.00" fill="#d44649"/>
<rect x="280.17" y="185.00" width="19.73" height="1.00" fill="#d4474b"/>
<rect x="319.33" y="185.00" width="19.43" height="1.00" fill="#50478e"/>
<rect x="338.77" y="185.00" width="19.43" height="1.00" fill="#4e448d"/>
<rect x="240.70" y="186.00" width="19.73" height="1.00" fill="#d34145"/>
<rect x="260.43" y="186.00" width="19.73" height="1.00" fill="#c63135"/>
<rect x="280.17" y="186.00" width="19.73" height="1.00" fill="#d54a4e"/>
<rect x="299.90" y="186.00" width="19.43" height="1.00" fill="#4a408a"/>
<rect x="319.33" y="186.00" width="19.43" height="1.00" fill="#675f9d"/>
<rect x="338.77" y="186.00" width="19.43" height="1.00" fill="#62599a"/>
<rect x="240.70" y="187.00" width="19.73" height="1.00" fill="#d23e41"/>
<rect x="299.90" y="187.00" width="19.43" height="1.00" fill="#564d92"/>
<rect x="319.33" y="187.00" width="19.43" height="1.00" fill="#595094"/>
<rect x="338.77" y="187.00" width="19.43" height="1.00" fill="#4f458e"/>
<rect x="260.43" y="188.00" width="19.73" height="1.00" fill="#d4474b"/>
<rect x="280.17" y="188.00" width="19.73" height="1.00" fill="#d23e42"/>
<rect x="299.90" y="188.00" width="19.43" height="1.00" fill="#443a84"/>
<rect x="319.33" y="188.00" width="19.43" height="1.00" fill="#584f94"/>
<rect x="338.77" y="188.00" width="19.43" height="1.00" fill="#645c9b"/>
<rect x="240.70" y="189.00" width="19.73" height="1.00" fill="#d23e41"/>
<rect x="260.43" y="189.00" width="19.73" height="1.00" fill="#d0383c"/>
<rect x="280.17" y="189.00" width="19.73" height="1.00" fill="#d1393c"/>
<rect x="299.90" y="189.00" width="19.43" height="1.00" fill="#5e5697"/>
<rect x="319.33" y="189.00" width="19.43" height="1.00" fill="#524990"/>
<rect x="338.77" y="189.00" width="19.43" height="1.00" fill="#51478f"/>
<rect x="240.70" y="190.00" width="19.73" height="1.00" fill="#d23e42"/>
<rect x="260.43" y="190.00" width="19.73" height="1.00" fill="#d34246"/>
<rect x="280.17" y="190.00" width="19.73" height="1.00" fill="#d54d51"/>
<rect x="319.33" y="190.00" width="19.43" height="1.00" fill="#443a84"/>
<rect x="338.77" y="190.00" width="19.43" height="1.00" fill="#443a85"/>
<rect x="240.70" y="191.00" width="19.73" height="2.00" fill="#c53135"/>
<rect x="260.43" y="191.00" width="19.73" height="2.00" fill="#d4474b"/>
<rect x="280.17" y="191.00" width="19.73" height="2.00" fill="#d4464a"/>
<rect x="299.90" y="191.00" width="19.43" height="2.00" fill="#4e448d"/>
<rect x="260.43" y="193.00" width="19.73" height="1.50" fill="#d13c3f"/>
<rect x="280.17" y="193.00" width="19.73" height="1.50" fill="#d1393d"/>
<rect x="338.77" y="193.00" width="19.43" height="1.50" fill="#4a408a"/>
<rect x="240.70" y="194.50" width="19.73" height="0.20" fill="#d44549"/>
<rect x="260.43" y="194.50" width="19.73" height="0.20" fill="#ca3236"/>
<rect x="299.90" y="194.50" width="19.43" height="0.20" fill="#423880"/>
<rect x="319.33" y="194.50" width="19.43" height="0.20" fill="#423981"/>
<rect x="338.77" y="194.50" width="19.43" height="0.20" fill="#4f458d"/>
<rect x="240.00" y="197.00" width="9.92" height="4.60" fill="#2a3278" stroke="#4a4a4a" stroke-width="0.35"/>
<rect x="249.92" y="197.00" width="9.92" height="4.60" fill="#3a4a92" stroke="#4a4a4a" stroke-width="0.35"/>
<rect x="259.83" y="197.00" width="9.92" height="4.60" fill="#5a66a8" stroke="#4a4a4a" stroke-width="0.35"/>
<rect x="269.75" y="197.00" width="9.92" height="4.60" fill="#8088ba" stroke="#4a4a4a" stroke-width="0.35"/>
<rect x="279.67" y="197.00" width="9.92" height="4.60" fill="#bcc0da" stroke="#4a4a4a" stroke-width="0.35"/>
<rect x="289.58" y="197.00" width="9.92" height="4.60" fill="#d6d8ea" stroke="#4a4a4a" stroke-width="0.35"/>
<rect x="299.50" y="197.00" width="9.92" height="4.60" fill="#f4d8de" stroke="#4a4a4a" stroke-width="0.35"/>
<rect x="309.42" y="197.00" width="9.92" height="4.60" fill="#eaa4a6" stroke="#4a4a4a" stroke-width="0.35"/>
<rect x="319.33" y="197.00" width="9.92" height="4.60" fill="#e48a8c" stroke="#4a4a4a" stroke-width="0.35"/>
<rect x="329.25" y="197.00" width="9.92" height="4.60" fill="#dc6e70" stroke="#4a4a4a" stroke-width="0.35"/>
<rect x="339.17" y="197.00" width="9.92" height="4.60" fill="#d4524f" stroke="#4a4a4a" stroke-width="0.35"/>
<rect x="349.08" y="197.00" width="9.92" height="4.60" fill="#c63a38" stroke="#4a4a4a" stroke-width="0.35"/>
<text x="240.3" y="209.8" font-size="6.6" fill="#161616" stroke="#161616" stroke-width="0.15">down</text>
<text x="359.0" y="209.8" font-size="6.6" text-anchor="end" fill="#161616" stroke="#161616" stroke-width="0.15">up</text>
<polyline points="375,2.5 362.2,52" fill="none" stroke="#222" stroke-width="1"/>
<polyline points="362.4,58.5 374.6,103" fill="none" stroke="#222" stroke-width="1"/>
<polyline points="374.7,115 361.4,190.5" fill="none" stroke="#222" stroke-width="1"/>
<polyline points="362.4,195.2 374.7,213.7" fill="none" stroke="#222" stroke-width="1"/>
<text x="380.9" y="7.4" font-size="7.5" font-weight="bold" fill="#111" stroke="#111" stroke-width="0.15">Top 10:</text>
<text x="380.9" y="16.1" font-size="7.9" font-style="italic" fill="#161616" stroke="#161616" stroke-width="0.15">TARP</text>
<text x="380.9" y="25.6" font-size="7.9" font-style="italic" fill="#161616" stroke="#161616" stroke-width="0.15">LMO3</text>
<text x="380.9" y="35.0" font-size="7.9" font-style="italic" fill="#161616" stroke="#161616" stroke-width="0.15">ACACB</text>
<text x="380.9" y="44.5" font-size="7.9" font-style="italic" fill="#161616" stroke="#161616" stroke-width="0.15">C9orf152</text>
<text x="380.9" y="53.9" font-size="7.9" font-style="italic" fill="#161616" stroke="#161616" stroke-width="0.15">GABRA2</text>
<text x="380.9" y="63.4" font-size="7.9" font-style="italic" fill="#161616" stroke="#161616" stroke-width="0.15">TIMP3</text>
<text x="380.9" y="72.8" font-size="7.9" font-style="italic" fill="#161616" stroke="#161616" stroke-width="0.15">GABRA1</text>
<text x="380.9" y="82.2" font-size="7.9" font-style="italic" fill="#161616" stroke="#161616" stroke-width="0.15">CSTA</text>
<text x="380.9" y="91.7" font-size="7.9" font-style="italic" fill="#161616" stroke="#161616" stroke-width="0.15">CEACAM6</text>
<text x="380.9" y="101.2" font-size="7.9" font-style="italic" fill="#161616" stroke="#161616" stroke-width="0.15">S100A16</text>
<text x="379.9" y="118.6" font-size="7.5" font-weight="bold" fill="#111" stroke="#111" stroke-width="0.15">Bottom 10:</text>
<text x="380.9" y="127.6" font-size="7.9" font-style="italic" fill="#161616" stroke="#161616" stroke-width="0.15">WTAPP1</text>
<text x="380.9" y="137.0" font-size="7.9" font-style="italic" fill="#161616" stroke="#161616" stroke-width="0.15">CPED1</text>
<text x="380.9" y="146.5" font-size="7.9" font-style="italic" fill="#161616" stroke="#161616" stroke-width="0.15">SYTL5</text>
<text x="380.9" y="155.9" font-size="7.9" font-style="italic" fill="#161616" stroke="#161616" stroke-width="0.15">EGR2</text>
<text x="380.9" y="165.4" font-size="7.9" font-style="italic" fill="#161616" stroke="#161616" stroke-width="0.15">DMP1</text>
<text x="380.9" y="174.8" font-size="7.9" font-style="italic" fill="#161616" stroke="#161616" stroke-width="0.15">SAMD9</text>
<text x="380.9" y="184.3" font-size="7.9" font-style="italic" fill="#161616" stroke="#161616" stroke-width="0.15">DDX60</text>
<text x="380.9" y="193.8" font-size="7.9" font-style="italic" fill="#161616" stroke="#161616" stroke-width="0.15">LOXL2</text>
<text x="380.9" y="203.2" font-size="7.9" font-style="italic" fill="#161616" stroke="#161616" stroke-width="0.15">SHC4</text>
<text x="380.9" y="212.6" font-size="7.9" font-style="italic" fill="#161616" stroke="#161616" stroke-width="0.15">MAP1B</text>
<text x="436.1" y="21.0" font-size="12.5" font-weight="bold" fill="#111" stroke="#111" stroke-width="0.15">c</text>
<text x="491.4" y="23.0" font-size="9" text-anchor="middle" fill="#161616" stroke="#161616" stroke-width="0.15">shRenilla</text>
<text x="492.1" y="33.9" font-size="9" text-anchor="middle" fill="#161616" stroke="#161616" stroke-width="0.15">CSS 5 day</text>
<text x="547.6" y="35.0" font-size="9" text-anchor="middle" fill="#161616" stroke="#161616" stroke-width="0.15">shKMT2C-R</text>
<line x1="466.6" y1="40.2" x2="518.4" y2="40.2" stroke="#3f55a5" stroke-width="1.1"/>
<line x1="526.4" y1="40.2" x2="577.4" y2="40.2" stroke="#e0494c" stroke-width="1.1"/>
<text x="434.1" y="48.3" font-size="6.6" fill="#161616" stroke="#161616" stroke-width="0.15">Replicates:</text>
<text x="472.8" y="48.3" font-size="6.6" text-anchor="middle" fill="#161616" stroke="#161616" stroke-width="0.15">1</text>
<text x="490.8" y="48.3" font-size="6.6" text-anchor="middle" fill="#161616" stroke="#161616" stroke-width="0.15">2</text>
<text x="508.9" y="48.3" font-size="6.6" text-anchor="middle" fill="#161616" stroke="#161616" stroke-width="0.15">3</text>
<text x="529.5" y="48.3" font-size="6.6" text-anchor="middle" fill="#161616" stroke="#161616" stroke-width="0.15">1</text>
<text x="548.9" y="48.3" font-size="6.6" text-anchor="middle" fill="#161616" stroke="#161616" stroke-width="0.15">2</text>
<text x="568.6" y="48.3" font-size="6.6" text-anchor="middle" fill="#161616" stroke="#161616" stroke-width="0.15">3</text>
<rect x="461.30" y="52.80" width="59.20" height="71.90" fill="#463c88"/>
<rect x="520.50" y="52.80" width="58.30" height="71.90" fill="#d03438"/>
<rect x="461.30" y="124.70" width="59.20" height="70.00" fill="#d03438"/>
<rect x="520.50" y="124.70" width="58.30" height="70.00" fill="#463c88"/>
<rect x="461.30" y="52.80" width="19.73" height="1.50" fill="#423880"/>
<rect x="481.03" y="52.80" width="19.73" height="1.50" fill="#4e458d"/>
<rect x="500.77" y="52.80" width="19.73" height="1.50" fill="#524990"/>
<rect x="520.50" y="52.80" width="19.43" height="1.50" fill="#c43135"/>
<rect x="539.93" y="52.80" width="19.43" height="1.50" fill="#d65054"/>
<rect x="481.03" y="54.30" width="19.73" height="1.50" fill="#443a84"/>
<rect x="520.50" y="54.30" width="19.43" height="1.50" fill="#d44649"/>
<rect x="539.93" y="54.30" width="19.43" height="1.50" fill="#d54c4f"/>
<rect x="461.30" y="55.80" width="19.73" height="1.00" fill="#544a91"/>
<rect x="481.03" y="55.80" width="19.73" height="1.00" fill="#4a408a"/>
<rect x="520.50" y="55.80" width="19.43" height="1.00" fill="#d4474b"/>
<rect x="539.93" y="55.80" width="19.43" height="1.00" fill="#d13a3d"/>
<rect x="559.37" y="55.80" width="19.43" height="1.00" fill="#d34245"/>
<rect x="481.03" y="56.80" width="19.73" height="1.00" fill="#4b418b"/>
<rect x="500.77" y="56.80" width="19.73" height="1.00" fill="#544b91"/>
<rect x="520.50" y="56.80" width="19.43" height="1.00" fill="#d34145"/>
<rect x="539.93" y="56.80" width="19.43" height="1.00" fill="#d23f43"/>
<rect x="461.30" y="57.80" width="19.73" height="1.00" fill="#554c92"/>
<rect x="481.03" y="57.80" width="19.73" height="1.00" fill="#5b5295"/>
<rect x="500.77" y="57.80" width="19.73" height="1.00" fill="#51488f"/>
<rect x="539.93" y="57.80" width="19.43" height="1.00" fill="#d23e41"/>
<rect x="559.37" y="57.80" width="19.43" height="1.00" fill="#d23f43"/>
<rect x="461.30" y="58.80" width="19.73" height="1.00" fill="#595094"/>
<rect x="481.03" y="58.80" width="19.73" height="1.00" fill="#4d448c"/>
<rect x="520.50" y="58.80" width="19.43" height="1.00" fill="#cb3236"/>
<rect x="539.93" y="58.80" width="19.43" height="1.00" fill="#d54a4d"/>
<rect x="559.37" y="58.80" width="19.43" height="1.00" fill="#d1383c"/>
<rect x="461.30" y="59.80" width="19.73" height="1.50" fill="#3f367b"/>
<rect x="481.03" y="59.80" width="19.73" height="1.50" fill="#5c5396"/>
<rect x="500.77" y="59.80" width="19.73" height="1.50" fill="#433a83"/>
<rect x="520.50" y="59.80" width="19.43" height="1.50" fill="#d75659"/>
<rect x="559.37" y="59.80" width="19.43" height="1.50" fill="#d4474b"/>
<rect x="461.30" y="61.30" width="19.73" height="2.00" fill="#4f468e"/>
<rect x="481.03" y="61.30" width="19.73" height="2.00" fill="#4b418b"/>
<rect x="520.50" y="61.30" width="19.43" height="2.00" fill="#c73135"/>
<rect x="539.93" y="61.30" width="19.43" height="2.00" fill="#d34246"/>
<rect x="559.37" y="61.30" width="19.43" height="2.00" fill="#c43134"/>
<rect x="461.30" y="63.30" width="19.73" height="1.00" fill="#4a408a"/>
<rect x="500.77" y="63.30" width="19.73" height="1.00" fill="#4e448d"/>
<rect x="539.93" y="63.30" width="19.43" height="1.00" fill="#c93236"/>
<rect x="481.03" y="64.30" width="19.73" height="2.00" fill="#4f458d"/>
<rect x="520.50" y="64.30" width="19.43" height="2.00" fill="#c63135"/>
<rect x="559.37" y="64.30" width="19.43" height="2.00" fill="#cb3236"/>
<rect x="520.50" y="66.30" width="19.43" height="1.00" fill="#d13b3e"/>
<rect x="539.93" y="66.30" width="19.43" height="1.00" fill="#d23e42"/>
<rect x="559.37" y="66.30" width="19.43" height="1.00" fill="#c83235"/>
<rect x="461.30" y="67.30" width="19.73" height="1.00" fill="#5d5496"/>
<rect x="481.03" y="67.30" width="19.73" height="1.00" fill="#5d5597"/>
<rect x="520.50" y="67.30" width="19.43" height="1.00" fill="#d34145"/>
<rect x="461.30" y="68.30" width="19.73" height="1.50" fill="#51488f"/>
<rect x="500.77" y="68.30" width="19.73" height="1.50" fill="#493f8a"/>
<rect x="520.50" y="68.30" width="19.43" height="1.50" fill="#be2f33"/>
<rect x="539.93" y="68.30" width="19.43" height="1.50" fill="#d13b3e"/>
<rect x="559.37" y="68.30" width="19.43" height="1.50" fill="#bf2f33"/>
<rect x="461.30" y="69.80" width="19.73" height="1.00" fill="#5d5497"/>
<rect x="481.03" y="69.80" width="19.73" height="1.00" fill="#6a629f"/>
<rect x="500.77" y="69.80" width="19.73" height="1.00" fill="#726ba4"/>
<rect x="520.50" y="69.80" width="19.43" height="1.00" fill="#d44549"/>
<rect x="539.93" y="69.80" width="19.43" height="1.00" fill="#d5494d"/>
<rect x="559.37" y="69.80" width="19.43" height="1.00" fill="#d4464a"/>
<rect x="461.30" y="70.80" width="19.73" height="2.00" fill="#4a408a"/>
<rect x="500.77" y="70.80" width="19.73" height="2.00" fill="#4f458e"/>
<rect x="520.50" y="70.80" width="19.43" height="2.00" fill="#d65054"/>
<rect x="559.37" y="70.80" width="19.43" height="2.00" fill="#d54a4e"/>
<rect x="461.30" y="72.80" width="19.73" height="1.00" fill="#4b428b"/>
<rect x="481.03" y="72.80" width="19.73" height="1.00" fill="#413880"/>
<rect x="500.77" y="72.80" width="19.73" height="1.00" fill="#574e93"/>
<rect x="520.50" y="72.80" width="19.43" height="1.00" fill="#d23f43"/>
<rect x="539.93" y="72.80" width="19.43" height="1.00" fill="#d13b3f"/>
<rect x="559.37" y="72.80" width="19.43" height="1.00" fill="#d65054"/>
<rect x="461.30" y="73.80" width="19.73" height="1.00" fill="#443a84"/>
<rect x="500.77" y="73.80" width="19.73" height="1.00" fill="#4a408a"/>
<rect x="520.50" y="73.80" width="19.43" height="1.00" fill="#c93236"/>
<rect x="559.37" y="73.80" width="19.43" height="1.00" fill="#d34347"/>
<rect x="461.30" y="74.80" width="19.73" height="2.00" fill="#574d92"/>
<rect x="481.03" y="74.80" width="19.73" height="2.00" fill="#51478f"/>
<rect x="500.77" y="74.80" width="19.73" height="2.00" fill="#524990"/>
<rect x="520.50" y="74.80" width="19.43" height="2.00" fill="#d13a3e"/>
<rect x="539.93" y="74.80" width="19.43" height="2.00" fill="#d1383c"/>
<rect x="559.37" y="74.80" width="19.43" height="2.00" fill="#d13a3e"/>
<rect x="461.30" y="76.80" width="19.73" height="1.50" fill="#40377d"/>
<rect x="481.03" y="76.80" width="19.73" height="1.50" fill="#4f458d"/>
<rect x="500.77" y="76.80" width="19.73" height="1.50" fill="#5f5798"/>
<rect x="520.50" y="76.80" width="19.43" height="1.50" fill="#d54c4f"/>
<rect x="539.93" y="76.80" width="19.43" height="1.50" fill="#c23034"/>
<rect x="559.37" y="76.80" width="19.43" height="1.50" fill="#d4484c"/>
<rect x="500.77" y="78.30" width="19.73" height="2.00" fill="#5f5698"/>
<rect x="520.50" y="78.30" width="19.43" height="2.00" fill="#c23034"/>
<rect x="539.93" y="78.30" width="19.43" height="2.00" fill="#d44649"/>
<rect x="559.37" y="78.30" width="19.43" height="2.00" fill="#d1393d"/>
<rect x="461.30" y="80.30" width="19.73" height="1.50" fill="#4c438c"/>
<rect x="500.77" y="80.30" width="19.73" height="1.50" fill="#756da6"/>
<rect x="539.93" y="80.30" width="19.43" height="1.50" fill="#d24044"/>
<rect x="461.30" y="81.80" width="19.73" height="2.00" fill="#51488f"/>
<rect x="481.03" y="81.80" width="19.73" height="2.00" fill="#554c92"/>
<rect x="500.77" y="81.80" width="19.73" height="2.00" fill="#443a84"/>
<rect x="520.50" y="81.80" width="19.43" height="2.00" fill="#d1393d"/>
<rect x="539.93" y="81.80" width="19.43" height="2.00" fill="#c93236"/>
<rect x="559.37" y="81.80" width="19.43" height="2.00" fill="#d13a3e"/>
<rect x="481.03" y="83.80" width="19.73" height="2.00" fill="#4b418b"/>
<rect x="520.50" y="83.80" width="19.43" height="2.00" fill="#d1393d"/>
<rect x="559.37" y="83.80" width="19.43" height="2.00" fill="#d34144"/>
<rect x="461.30" y="85.80" width="19.73" height="1.00" fill="#4d448d"/>
<rect x="481.03" y="85.80" width="19.73" height="1.00" fill="#605899"/>
<rect x="520.50" y="85.80" width="19.43" height="1.00" fill="#d23e42"/>
<rect x="539.93" y="85.80" width="19.43" height="1.00" fill="#dc676a"/>
<rect x="461.30" y="86.80" width="19.73" height="1.00" fill="#564d92"/>
<rect x="481.03" y="86.80" width="19.73" height="1.00" fill="#595094"/>
<rect x="500.77" y="86.80" width="19.73" height="1.00" fill="#4e448d"/>
<rect x="520.50" y="86.80" width="19.43" height="1.00" fill="#d13b3f"/>
<rect x="539.93" y="86.80" width="19.43" height="1.00" fill="#d34145"/>
<rect x="559.37" y="86.80" width="19.43" height="1.00" fill="#cb3236"/>
<rect x="461.30" y="87.80" width="19.73" height="1.50" fill="#605798"/>
<rect x="481.03" y="87.80" width="19.73" height="1.50" fill="#4a408a"/>
<rect x="500.77" y="87.80" width="19.73" height="1.50" fill="#534a90"/>
<rect x="539.93" y="87.80" width="19.43" height="1.50" fill="#d64e52"/>
<rect x="559.37" y="87.80" width="19.43" height="1.50" fill="#d34346"/>
<rect x="461.30" y="89.30" width="19.73" height="1.00" fill="#443a84"/>
<rect x="481.03" y="89.30" width="19.73" height="1.00" fill="#4e458d"/>
<rect x="559.37" y="89.30" width="19.43" height="1.00" fill="#d75659"/>
<rect x="481.03" y="90.30" width="19.73" height="1.00" fill="#524990"/>
<rect x="500.77" y="90.30" width="19.73" height="1.00" fill="#41377e"/>
<rect x="559.37" y="90.30" width="19.43" height="1.00" fill="#d1383c"/>
<rect x="481.03" y="91.30" width="19.73" height="1.50" fill="#4d438c"/>
<rect x="500.77" y="91.30" width="19.73" height="1.50" fill="#574e93"/>
<rect x="539.93" y="91.30" width="19.43" height="1.50" fill="#d13b3f"/>
<rect x="559.37" y="91.30" width="19.43" height="1.50" fill="#d95b5e"/>
<rect x="461.30" y="92.80" width="19.73" height="1.00" fill="#4d438c"/>
<rect x="481.03" y="92.80" width="19.73" height="1.00" fill="#50468e"/>
<rect x="500.77" y="92.80" width="19.73" height="1.00" fill="#534a90"/>
<rect x="520.50" y="92.80" width="19.43" height="1.00" fill="#d23d41"/>
<rect x="539.93" y="92.80" width="19.43" height="1.00" fill="#d4484b"/>
<rect x="461.30" y="93.80" width="19.73" height="1.50" fill="#574e93"/>
<rect x="481.03" y="93.80" width="19.73" height="1.50" fill="#595094"/>
<rect x="500.77" y="93.80" width="19.73" height="1.50" fill="#4f468e"/>
<rect x="520.50" y="93.80" width="19.43" height="1.50" fill="#d23e42"/>
<rect x="539.93" y="93.80" width="19.43" height="1.50" fill="#d34548"/>
<rect x="559.37" y="93.80" width="19.43" height="1.50" fill="#d4464a"/>
<rect x="461.30" y="95.30" width="19.73" height="2.00" fill="#564d92"/>
<rect x="481.03" y="95.30" width="19.73" height="2.00" fill="#4e448d"/>
<rect x="500.77" y="95.30" width="19.73" height="2.00" fill="#635b9a"/>
<rect x="461.30" y="97.30" width="19.73" height="2.00" fill="#5c5396"/>
<rect x="481.03" y="97.30" width="19.73" height="2.00" fill="#443a84"/>
<rect x="500.77" y="97.30" width="19.73" height="2.00" fill="#5a5195"/>
<rect x="520.50" y="97.30" width="19.43" height="2.00" fill="#d4464a"/>
<rect x="539.93" y="97.30" width="19.43" height="2.00" fill="#d34347"/>
<rect x="559.37" y="97.30" width="19.43" height="2.00" fill="#d23d41"/>
<rect x="461.30" y="99.30" width="19.73" height="1.00" fill="#443a85"/>
<rect x="481.03" y="99.30" width="19.73" height="1.00" fill="#4e458d"/>
<rect x="500.77" y="99.30" width="19.73" height="1.00" fill="#4a408a"/>
<rect x="520.50" y="99.30" width="19.43" height="1.00" fill="#d0383c"/>
<rect x="539.93" y="99.30" width="19.43" height="1.00" fill="#d13b3f"/>
<rect x="461.30" y="100.30" width="19.73" height="1.50" fill="#4e458d"/>
<rect x="481.03" y="100.30" width="19.73" height="1.50" fill="#4c438c"/>
<rect x="500.77" y="100.30" width="19.73" height="1.50" fill="#4d438c"/>
<rect x="520.50" y="100.30" width="19.43" height="1.50" fill="#d13c3f"/>
<rect x="539.93" y="100.30" width="19.43" height="1.50" fill="#c93236"/>
<rect x="559.37" y="100.30" width="19.43" height="1.50" fill="#d54a4e"/>
<rect x="461.30" y="101.80" width="19.73" height="1.50" fill="#52488f"/>
<rect x="481.03" y="101.80" width="19.73" height="1.50" fill="#554c91"/>
<rect x="500.77" y="101.80" width="19.73" height="1.50" fill="#524990"/>
<rect x="520.50" y="101.80" width="19.43" height="1.50" fill="#d34144"/>
<rect x="539.93" y="101.80" width="19.43" height="1.50" fill="#d4494d"/>
<rect x="559.37" y="101.80" width="19.43" height="1.50" fill="#d75558"/>
<rect x="461.30" y="103.30" width="19.73" height="1.50" fill="#584f93"/>
<rect x="481.03" y="103.30" width="19.73" height="1.50" fill="#52488f"/>
<rect x="500.77" y="103.30" width="19.73" height="1.50" fill="#423880"/>
<rect x="520.50" y="103.30" width="19.43" height="1.50" fill="#c33034"/>
<rect x="539.93" y="103.30" width="19.43" height="1.50" fill="#d5494d"/>
<rect x="559.37" y="103.30" width="19.43" height="1.50" fill="#d23d41"/>
<rect x="461.30" y="104.80" width="19.73" height="1.00" fill="#554c92"/>
<rect x="500.77" y="104.80" width="19.73" height="1.00" fill="#605899"/>
<rect x="520.50" y="104.80" width="19.43" height="1.00" fill="#d65054"/>
<rect x="539.93" y="104.80" width="19.43" height="1.00" fill="#d13b3f"/>
<rect x="559.37" y="104.80" width="19.43" height="1.00" fill="#d34347"/>
<rect x="461.30" y="105.80" width="19.73" height="1.50" fill="#4d448d"/>
<rect x="481.03" y="105.80" width="19.73" height="1.50" fill="#625a9a"/>
<rect x="500.77" y="105.80" width="19.73" height="1.50" fill="#4f468e"/>
<rect x="520.50" y="105.80" width="19.43" height="1.50" fill="#d34145"/>
<rect x="539.93" y="105.80" width="19.43" height="1.50" fill="#d23d41"/>
<rect x="559.37" y="105.80" width="19.43" height="1.50" fill="#d34145"/>
<rect x="461.30" y="107.30" width="19.73" height="1.00" fill="#4a418b"/>
<rect x="481.03" y="107.30" width="19.73" height="1.00" fill="#51488f"/>
<rect x="500.77" y="107.30" width="19.73" height="1.00" fill="#62599a"/>
<rect x="520.50" y="107.30" width="19.43" height="1.00" fill="#d1383c"/>
<rect x="539.93" y="107.30" width="19.43" height="1.00" fill="#d13c3f"/>
<rect x="559.37" y="107.30" width="19.43" height="1.00" fill="#d8575b"/>
<rect x="461.30" y="108.30" width="19.73" height="1.50" fill="#51488f"/>
<rect x="481.03" y="108.30" width="19.73" height="1.50" fill="#574e92"/>
<rect x="500.77" y="108.30" width="19.73" height="1.50" fill="#544b91"/>
<rect x="520.50" y="108.30" width="19.43" height="1.50" fill="#d13b3f"/>
<rect x="539.93" y="108.30" width="19.43" height="1.50" fill="#d23f43"/>
<rect x="559.37" y="108.30" width="19.43" height="1.50" fill="#ca3236"/>
<rect x="461.30" y="109.80" width="19.73" height="1.00" fill="#524990"/>
<rect x="481.03" y="109.80" width="19.73" height="1.00" fill="#4b418b"/>
<rect x="500.77" y="109.80" width="19.73" height="1.00" fill="#4f458e"/>
<rect x="520.50" y="109.80" width="19.43" height="1.00" fill="#d24044"/>
<rect x="559.37" y="109.80" width="19.43" height="1.00" fill="#d13a3e"/>
<rect x="461.30" y="110.80" width="19.73" height="1.00" fill="#5c5396"/>
<rect x="481.03" y="110.80" width="19.73" height="1.00" fill="#655d9c"/>
<rect x="500.77" y="110.80" width="19.73" height="1.00" fill="#564d92"/>
<rect x="520.50" y="110.80" width="19.43" height="1.00" fill="#d64f52"/>
<rect x="539.93" y="110.80" width="19.43" height="1.00" fill="#d54d50"/>
<rect x="559.37" y="110.80" width="19.43" height="1.00" fill="#d24044"/>
<rect x="461.30" y="111.80" width="19.73" height="2.00" fill="#5c5396"/>
<rect x="481.03" y="111.80" width="19.73" height="2.00" fill="#595094"/>
<rect x="500.77" y="111.80" width="19.73" height="2.00" fill="#50478e"/>
<rect x="520.50" y="111.80" width="19.43" height="2.00" fill="#d75255"/>
<rect x="539.93" y="111.80" width="19.43" height="2.00" fill="#d95b5e"/>
<rect x="559.37" y="111.80" width="19.43" height="2.00" fill="#d75457"/>
<rect x="461.30" y="113.80" width="19.73" height="2.00" fill="#5d5597"/>
<rect x="481.03" y="113.80" width="19.73" height="2.00" fill="#7068a3"/>
<rect x="500.77" y="113.80" width="19.73" height="2.00" fill="#433983"/>
<rect x="520.50" y="113.80" width="19.43" height="2.00" fill="#d75558"/>
<rect x="539.93" y="113.80" width="19.43" height="2.00" fill="#d85659"/>
<rect x="559.37" y="113.80" width="19.43" height="2.00" fill="#d23e42"/>
<rect x="461.30" y="115.80" width="19.73" height="1.00" fill="#5c5396"/>
<rect x="481.03" y="115.80" width="19.73" height="1.00" fill="#5a5195"/>
<rect x="500.77" y="115.80" width="19.73" height="1.00" fill="#635b9b"/>
<rect x="520.50" y="115.80" width="19.43" height="1.00" fill="#da5f63"/>
<rect x="539.93" y="115.80" width="19.43" height="1.00" fill="#d85a5d"/>
<rect x="559.37" y="115.80" width="19.43" height="1.00" fill="#d65155"/>
<rect x="461.30" y="116.80" width="19.73" height="1.00" fill="#52488f"/>
<rect x="481.03" y="116.80" width="19.73" height="1.00" fill="#524990"/>
<rect x="500.77" y="116.80" width="19.73" height="1.00" fill="#6b63a0"/>
<rect x="520.50" y="116.80" width="19.43" height="1.00" fill="#db6669"/>
<rect x="539.93" y="116.80" width="19.43" height="1.00" fill="#d54a4d"/>
<rect x="559.37" y="116.80" width="19.43" height="1.00" fill="#d4484c"/>
<rect x="461.30" y="117.80" width="19.73" height="1.00" fill="#635b9b"/>
<rect x="481.03" y="117.80" width="19.73" height="1.00" fill="#4b428b"/>
<rect x="500.77" y="117.80" width="19.73" height="1.00" fill="#62599a"/>
<rect x="520.50" y="117.80" width="19.43" height="1.00" fill="#da6063"/>
<rect x="539.93" y="117.80" width="19.43" height="1.00" fill="#d75256"/>
<rect x="559.37" y="117.80" width="19.43" height="1.00" fill="#d34447"/>
<rect x="461.30" y="118.80" width="19.73" height="1.50" fill="#5e5597"/>
<rect x="481.03" y="118.80" width="19.73" height="1.50" fill="#6b63a0"/>
<rect x="500.77" y="118.80" width="19.73" height="1.50" fill="#5b5295"/>
<rect x="520.50" y="118.80" width="19.43" height="1.50" fill="#dc686b"/>
<rect x="539.93" y="118.80" width="19.43" height="1.50" fill="#d23d41"/>
<rect x="559.37" y="118.80" width="19.43" height="1.50" fill="#d95d60"/>
<rect x="461.30" y="120.30" width="19.73" height="1.50" fill="#615899"/>
<rect x="481.03" y="120.30" width="19.73" height="1.50" fill="#4e458d"/>
<rect x="500.77" y="120.30" width="19.73" height="1.50" fill="#615899"/>
<rect x="520.50" y="120.30" width="19.43" height="1.50" fill="#d75558"/>
<rect x="539.93" y="120.30" width="19.43" height="1.50" fill="#dc6a6d"/>
<rect x="559.37" y="120.30" width="19.43" height="1.50" fill="#db676a"/>
<rect x="461.30" y="121.80" width="19.73" height="1.00" fill="#7068a3"/>
<rect x="481.03" y="121.80" width="19.73" height="1.00" fill="#7a72a9"/>
<rect x="500.77" y="121.80" width="19.73" height="1.00" fill="#7972a9"/>
<rect x="520.50" y="121.80" width="19.43" height="1.00" fill="#d4484b"/>
<rect x="539.93" y="121.80" width="19.43" height="1.00" fill="#d95e62"/>
<rect x="559.37" y="121.80" width="19.43" height="1.00" fill="#d95c5f"/>
<rect x="461.30" y="124.70" width="19.73" height="2.00" fill="#db6669"/>
<rect x="481.03" y="124.70" width="19.73" height="2.00" fill="#d8585b"/>
<rect x="500.77" y="124.70" width="19.73" height="2.00" fill="#dc696c"/>
<rect x="520.50" y="124.70" width="19.43" height="2.00" fill="#7d76ab"/>
<rect x="539.93" y="124.70" width="19.43" height="2.00" fill="#5f5798"/>
<rect x="559.37" y="124.70" width="19.43" height="2.00" fill="#7d76ab"/>
<rect x="461.30" y="126.70" width="19.73" height="1.00" fill="#d85659"/>
<rect x="481.03" y="126.70" width="19.73" height="1.00" fill="#da5f62"/>
<rect x="500.77" y="126.70" width="19.73" height="1.00" fill="#d75558"/>
<rect x="520.50" y="126.70" width="19.43" height="1.00" fill="#665e9c"/>
<rect x="539.93" y="126.70" width="19.43" height="1.00" fill="#62599a"/>
<rect x="559.37" y="126.70" width="19.43" height="1.00" fill="#665d9c"/>
<rect x="461.30" y="127.70" width="19.73" height="1.00" fill="#dc6a6d"/>
<rect x="481.03" y="127.70" width="19.73" height="1.00" fill="#d95b5f"/>
<rect x="500.77" y="127.70" width="19.73" height="1.00" fill="#d95c5f"/>
<rect x="520.50" y="127.70" width="19.43" height="1.00" fill="#675f9d"/>
<rect x="539.93" y="127.70" width="19.43" height="1.00" fill="#766fa7"/>
<rect x="559.37" y="127.70" width="19.43" height="1.00" fill="#655d9c"/>
<rect x="461.30" y="128.70" width="19.73" height="2.00" fill="#db6568"/>
<rect x="481.03" y="128.70" width="19.73" height="2.00" fill="#d34347"/>
<rect x="500.77" y="128.70" width="19.73" height="2.00" fill="#d8575b"/>
<rect x="520.50" y="128.70" width="19.43" height="2.00" fill="#615899"/>
<rect x="539.93" y="128.70" width="19.43" height="2.00" fill="#605798"/>
<rect x="559.37" y="128.70" width="19.43" height="2.00" fill="#5d5597"/>
<rect x="461.30" y="130.70" width="19.73" height="1.00" fill="#d75559"/>
<rect x="481.03" y="130.70" width="19.73" height="1.00" fill="#d4464a"/>
<rect x="500.77" y="130.70" width="19.73" height="1.00" fill="#d75659"/>
<rect x="520.50" y="130.70" width="19.43" height="1.00" fill="#544b91"/>
<rect x="539.93" y="130.70" width="19.43" height="1.00" fill="#5a5195"/>
<rect x="559.37" y="130.70" width="19.43" height="1.00" fill="#5c5396"/>
<rect x="461.30" y="131.70" width="19.73" height="1.50" fill="#d34145"/>
<rect x="481.03" y="131.70" width="19.73" height="1.50" fill="#d65054"/>
<rect x="500.77" y="131.70" width="19.73" height="1.50" fill="#d65053"/>
<rect x="520.50" y="131.70" width="19.43" height="1.50" fill="#5d5496"/>
<rect x="539.93" y="131.70" width="19.43" height="1.50" fill="#5c5396"/>
<rect x="559.37" y="131.70" width="19.43" height="1.50" fill="#5e5697"/>
<rect x="461.30" y="133.20" width="19.73" height="1.00" fill="#d95b5e"/>
<rect x="481.03" y="133.20" width="19.73" height="1.00" fill="#db6467"/>
<rect x="500.77" y="133.20" width="19.73" height="1.00" fill="#d34145"/>
<rect x="520.50" y="133.20" width="19.43" height="1.00" fill="#655d9c"/>
<rect x="539.93" y="133.20" width="19.43" height="1.00" fill="#534a90"/>
<rect x="559.37" y="133.20" width="19.43" height="1.00" fill="#69619f"/>
<rect x="461.30" y="134.20" width="19.73" height="1.50" fill="#d4474a"/>
<rect x="481.03" y="134.20" width="19.73" height="1.50" fill="#d64e51"/>
<rect x="500.77" y="134.20" width="19.73" height="1.50" fill="#d75255"/>
<rect x="539.93" y="134.20" width="19.43" height="1.50" fill="#4e458d"/>
<rect x="559.37" y="134.20" width="19.43" height="1.50" fill="#615899"/>
<rect x="461.30" y="135.70" width="19.73" height="1.00" fill="#d34245"/>
<rect x="481.03" y="135.70" width="19.73" height="1.00" fill="#d64f53"/>
<rect x="500.77" y="135.70" width="19.73" height="1.00" fill="#d75458"/>
<rect x="520.50" y="135.70" width="19.43" height="1.00" fill="#6e66a1"/>
<rect x="539.93" y="135.70" width="19.43" height="1.00" fill="#564d92"/>
<rect x="461.30" y="136.70" width="19.73" height="1.00" fill="#d34347"/>
<rect x="481.03" y="136.70" width="19.73" height="1.00" fill="#d34548"/>
<rect x="500.77" y="136.70" width="19.73" height="1.00" fill="#d8585c"/>
<rect x="520.50" y="136.70" width="19.43" height="1.00" fill="#645c9b"/>
<rect x="559.37" y="136.70" width="19.43" height="1.00" fill="#574e93"/>
<rect x="461.30" y="137.70" width="19.73" height="1.50" fill="#d1393d"/>
<rect x="481.03" y="137.70" width="19.73" height="1.50" fill="#d54a4d"/>
<rect x="520.50" y="137.70" width="19.43" height="1.50" fill="#6a629f"/>
<rect x="539.93" y="137.70" width="19.43" height="1.50" fill="#645b9b"/>
<rect x="559.37" y="137.70" width="19.43" height="1.50" fill="#574e93"/>
<rect x="461.30" y="139.20" width="19.73" height="1.00" fill="#d54c50"/>
<rect x="481.03" y="139.20" width="19.73" height="1.00" fill="#d64f52"/>
<rect x="500.77" y="139.20" width="19.73" height="1.00" fill="#d54d51"/>
<rect x="520.50" y="139.20" width="19.43" height="1.00" fill="#6b639f"/>
<rect x="539.93" y="139.20" width="19.43" height="1.00" fill="#4e448d"/>
<rect x="559.37" y="139.20" width="19.43" height="1.00" fill="#574d92"/>
<rect x="461.30" y="140.20" width="19.73" height="1.00" fill="#da5f63"/>
<rect x="481.03" y="140.20" width="19.73" height="1.00" fill="#d54c50"/>
<rect x="500.77" y="140.20" width="19.73" height="1.00" fill="#d34346"/>
<rect x="520.50" y="140.20" width="19.43" height="1.00" fill="#4a418b"/>
<rect x="539.93" y="140.20" width="19.43" height="1.00" fill="#51478f"/>
<rect x="559.37" y="140.20" width="19.43" height="1.00" fill="#4a418b"/>
<rect x="461.30" y="141.20" width="19.73" height="1.00" fill="#d44649"/>
<rect x="481.03" y="141.20" width="19.73" height="1.00" fill="#d23f42"/>
<rect x="520.50" y="141.20" width="19.43" height="1.00" fill="#584f93"/>
<rect x="539.93" y="141.20" width="19.43" height="1.00" fill="#534a90"/>
<rect x="559.37" y="141.20" width="19.43" height="1.00" fill="#605798"/>
<rect x="461.30" y="142.20" width="19.73" height="1.50" fill="#d23e42"/>
<rect x="481.03" y="142.20" width="19.73" height="1.50" fill="#d64e51"/>
<rect x="500.77" y="142.20" width="19.73" height="1.50" fill="#d64f52"/>
<rect x="520.50" y="142.20" width="19.43" height="1.50" fill="#4d438c"/>
<rect x="539.93" y="142.20" width="19.43" height="1.50" fill="#52488f"/>
<rect x="559.37" y="142.20" width="19.43" height="1.50" fill="#595094"/>
<rect x="461.30" y="143.70" width="19.73" height="1.50" fill="#d23c40"/>
<rect x="481.03" y="143.70" width="19.73" height="1.50" fill="#d4464a"/>
<rect x="500.77" y="143.70" width="19.73" height="1.50" fill="#ca3236"/>
<rect x="520.50" y="143.70" width="19.43" height="1.50" fill="#534a90"/>
<rect x="539.93" y="143.70" width="19.43" height="1.50" fill="#756da6"/>
<rect x="481.03" y="145.20" width="19.73" height="1.50" fill="#c73135"/>
<rect x="500.77" y="145.20" width="19.73" height="1.50" fill="#d34448"/>
<rect x="520.50" y="145.20" width="19.43" height="1.50" fill="#645c9b"/>
<rect x="539.93" y="145.20" width="19.43" height="1.50" fill="#4a408a"/>
<rect x="559.37" y="145.20" width="19.43" height="1.50" fill="#4e458d"/>
<rect x="461.30" y="146.70" width="19.73" height="1.00" fill="#d4464a"/>
<rect x="481.03" y="146.70" width="19.73" height="1.00" fill="#d13c40"/>
<rect x="520.50" y="146.70" width="19.43" height="1.00" fill="#4d438c"/>
<rect x="539.93" y="146.70" width="19.43" height="1.00" fill="#574e93"/>
<rect x="559.37" y="146.70" width="19.43" height="1.00" fill="#4f458d"/>
<rect x="461.30" y="147.70" width="19.73" height="1.00" fill="#d1393d"/>
<rect x="500.77" y="147.70" width="19.73" height="1.00" fill="#d34448"/>
<rect x="520.50" y="147.70" width="19.43" height="1.00" fill="#544b91"/>
<rect x="539.93" y="147.70" width="19.43" height="1.00" fill="#423881"/>
<rect x="559.37" y="147.70" width="19.43" height="1.00" fill="#4d448c"/>
<rect x="461.30" y="148.70" width="19.73" height="1.00" fill="#c63135"/>
<rect x="481.03" y="148.70" width="19.73" height="1.00" fill="#d44549"/>
<rect x="520.50" y="148.70" width="19.43" height="1.00" fill="#5b5295"/>
<rect x="559.37" y="148.70" width="19.43" height="1.00" fill="#5e5597"/>
<rect x="461.30" y="149.70" width="19.73" height="1.00" fill="#db6568"/>
<rect x="500.77" y="149.70" width="19.73" height="1.00" fill="#d13a3e"/>
<rect x="520.50" y="149.70" width="19.43" height="1.00" fill="#4a418b"/>
<rect x="539.93" y="149.70" width="19.43" height="1.00" fill="#4c428c"/>
<rect x="559.37" y="149.70" width="19.43" height="1.00" fill="#5c5396"/>
<rect x="481.03" y="150.70" width="19.73" height="1.00" fill="#d44549"/>
<rect x="500.77" y="150.70" width="19.73" height="1.00" fill="#d1393d"/>
<rect x="520.50" y="150.70" width="19.43" height="1.00" fill="#554c91"/>
<rect x="539.93" y="150.70" width="19.43" height="1.00" fill="#4c428c"/>
<rect x="481.03" y="151.70" width="19.73" height="1.00" fill="#c73135"/>
<rect x="520.50" y="151.70" width="19.43" height="1.00" fill="#5f5698"/>
<rect x="539.93" y="151.70" width="19.43" height="1.00" fill="#50478e"/>
<rect x="559.37" y="151.70" width="19.43" height="1.00" fill="#51488f"/>
<rect x="461.30" y="152.70" width="19.73" height="1.00" fill="#d34548"/>
<rect x="481.03" y="152.70" width="19.73" height="1.00" fill="#d34044"/>
<rect x="500.77" y="152.70" width="19.73" height="1.00" fill="#d23d41"/>
<rect x="539.93" y="152.70" width="19.43" height="1.00" fill="#574e93"/>
<rect x="559.37" y="152.70" width="19.43" height="1.00" fill="#50478e"/>
<rect x="461.30" y="153.70" width="19.73" height="1.00" fill="#c33034"/>
<rect x="481.03" y="153.70" width="19.73" height="1.00" fill="#d34145"/>
<rect x="539.93" y="153.70" width="19.43" height="1.00" fill="#4b418b"/>
<rect x="559.37" y="153.70" width="19.43" height="1.00" fill="#4d438c"/>
<rect x="481.03" y="154.70" width="19.73" height="2.00" fill="#d13c40"/>
<rect x="500.77" y="154.70" width="19.73" height="2.00" fill="#c93236"/>
<rect x="520.50" y="154.70" width="19.43" height="2.00" fill="#4b418b"/>
<rect x="539.93" y="154.70" width="19.43" height="2.00" fill="#433a84"/>
<rect x="559.37" y="154.70" width="19.43" height="2.00" fill="#50478f"/>
<rect x="461.30" y="156.70" width="19.73" height="1.00" fill="#d23f43"/>
<rect x="481.03" y="156.70" width="19.73" height="1.00" fill="#d0383c"/>
<rect x="520.50" y="156.70" width="19.43" height="1.00" fill="#5e5597"/>
<rect x="539.93" y="156.70" width="19.43" height="1.00" fill="#564d92"/>
<rect x="559.37" y="156.70" width="19.43" height="1.00" fill="#3f367b"/>
<rect x="481.03" y="157.70" width="19.73" height="1.00" fill="#d34245"/>
<rect x="500.77" y="157.70" width="19.73" height="1.00" fill="#d24044"/>
<rect x="520.50" y="157.70" width="19.43" height="1.00" fill="#544b91"/>
<rect x="539.93" y="157.70" width="19.43" height="1.00" fill="#51488f"/>
<rect x="461.30" y="158.70" width="19.73" height="1.00" fill="#d23d41"/>
<rect x="481.03" y="158.70" width="19.73" height="1.00" fill="#d34347"/>
<rect x="500.77" y="158.70" width="19.73" height="1.00" fill="#d1383c"/>
<rect x="539.93" y="158.70" width="19.43" height="1.00" fill="#544b91"/>
<rect x="559.37" y="158.70" width="19.43" height="1.00" fill="#52498f"/>
<rect x="461.30" y="159.70" width="19.73" height="1.00" fill="#d24044"/>
<rect x="500.77" y="159.70" width="19.73" height="1.00" fill="#d54c4f"/>
<rect x="520.50" y="159.70" width="19.43" height="1.00" fill="#574e93"/>
<rect x="539.93" y="159.70" width="19.43" height="1.00" fill="#4a408a"/>
<rect x="559.37" y="159.70" width="19.43" height="1.00" fill="#4b418b"/>
<rect x="481.03" y="160.70" width="19.73" height="1.00" fill="#d23d41"/>
<rect x="500.77" y="160.70" width="19.73" height="1.00" fill="#d8585b"/>
<rect x="520.50" y="160.70" width="19.43" height="1.00" fill="#423981"/>
<rect x="539.93" y="160.70" width="19.43" height="1.00" fill="#5a5195"/>
<rect x="559.37" y="160.70" width="19.43" height="1.00" fill="#51488f"/>
<rect x="461.30" y="161.70" width="19.73" height="1.00" fill="#d64e51"/>
<rect x="481.03" y="161.70" width="19.73" height="1.00" fill="#ca3236"/>
<rect x="500.77" y="161.70" width="19.73" height="1.00" fill="#d34145"/>
<rect x="520.50" y="161.70" width="19.43" height="1.00" fill="#50468e"/>
<rect x="539.93" y="161.70" width="19.43" height="1.00" fill="#605899"/>
<rect x="559.37" y="161.70" width="19.43" height="1.00" fill="#4f458d"/>
<rect x="461.30" y="162.70" width="19.73" height="1.00" fill="#d24044"/>
<rect x="481.03" y="162.70" width="19.73" height="1.00" fill="#c73135"/>
<rect x="520.50" y="162.70" width="19.43" height="1.00" fill="#554b91"/>
<rect x="559.37" y="162.70" width="19.43" height="1.00" fill="#3e357a"/>
<rect x="461.30" y="163.70" width="19.73" height="1.00" fill="#d44649"/>
<rect x="481.03" y="163.70" width="19.73" height="1.00" fill="#d1393d"/>
<rect x="500.77" y="163.70" width="19.73" height="1.00" fill="#d54c4f"/>
<rect x="520.50" y="163.70" width="19.43" height="1.00" fill="#51488f"/>
<rect x="539.93" y="163.70" width="19.43" height="1.00" fill="#4b418b"/>
<rect x="559.37" y="163.70" width="19.43" height="1.00" fill="#50478f"/>
<rect x="481.03" y="164.70" width="19.73" height="1.00" fill="#d23e41"/>
<rect x="500.77" y="164.70" width="19.73" height="1.00" fill="#d13c40"/>
<rect x="520.50" y="164.70" width="19.43" height="1.00" fill="#4d448d"/>
<rect x="539.93" y="164.70" width="19.43" height="1.00" fill="#584f94"/>
<rect x="559.37" y="164.70" width="19.43" height="1.00" fill="#433a83"/>
<rect x="500.77" y="165.70" width="19.73" height="1.00" fill="#d34448"/>
<rect x="539.93" y="165.70" width="19.43" height="1.00" fill="#50468e"/>
<rect x="559.37" y="165.70" width="19.43" height="1.00" fill="#554c92"/>
<rect x="461.30" y="166.70" width="19.73" height="2.00" fill="#d64e52"/>
<rect x="481.03" y="166.70" width="19.73" height="2.00" fill="#d13b3f"/>
<rect x="500.77" y="166.70" width="19.73" height="2.00" fill="#d13b3f"/>
<rect x="539.93" y="166.70" width="19.43" height="2.00" fill="#4b428b"/>
<rect x="559.37" y="166.70" width="19.43" height="2.00" fill="#4f468e"/>
<rect x="461.30" y="168.70" width="19.73" height="1.50" fill="#d13a3e"/>
<rect x="481.03" y="168.70" width="19.73" height="1.50" fill="#d34448"/>
<rect x="500.77" y="168.70" width="19.73" height="1.50" fill="#d23d41"/>
<rect x="520.50" y="168.70" width="19.43" height="1.50" fill="#4d448d"/>
<rect x="539.93" y="168.70" width="19.43" height="1.50" fill="#4a408a"/>
<rect x="559.37" y="168.70" width="19.43" height="1.50" fill="#534a90"/>
<rect x="520.50" y="170.20" width="19.43" height="2.00" fill="#4a408a"/>
<rect x="539.93" y="170.20" width="19.43" height="2.00" fill="#544a91"/>
<rect x="559.37" y="170.20" width="19.43" height="2.00" fill="#595094"/>
<rect x="481.03" y="172.20" width="19.73" height="1.00" fill="#c63135"/>
<rect x="500.77" y="172.20" width="19.73" height="1.00" fill="#d13b3e"/>
<rect x="559.37" y="172.20" width="19.43" height="1.00" fill="#4c438c"/>
<rect x="461.30" y="173.20" width="19.73" height="2.00" fill="#d23d40"/>
<rect x="520.50" y="173.20" width="19.43" height="2.00" fill="#433982"/>
<rect x="539.93" y="173.20" width="19.43" height="2.00" fill="#51478f"/>
<rect x="559.37" y="173.20" width="19.43" height="2.00" fill="#4a418b"/>
<rect x="461.30" y="175.20" width="19.73" height="1.00" fill="#d75558"/>
<rect x="481.03" y="175.20" width="19.73" height="1.00" fill="#c93236"/>
<rect x="500.77" y="175.20" width="19.73" height="1.00" fill="#d13a3e"/>
<rect x="520.50" y="175.20" width="19.43" height="1.00" fill="#4d448d"/>
<rect x="539.93" y="175.20" width="19.43" height="1.00" fill="#4f468e"/>
<rect x="559.37" y="175.20" width="19.43" height="1.00" fill="#40377c"/>
<rect x="461.30" y="176.20" width="19.73" height="2.00" fill="#d13a3e"/>
<rect x="500.77" y="176.20" width="19.73" height="2.00" fill="#d1393d"/>
<rect x="559.37" y="176.20" width="19.43" height="2.00" fill="#4c428c"/>
<rect x="461.30" y="178.20" width="19.73" height="1.50" fill="#d4474a"/>
<rect x="481.03" y="178.20" width="19.73" height="1.50" fill="#d23c40"/>
<rect x="500.77" y="178.20" width="19.73" height="1.50" fill="#d23d41"/>
<rect x="520.50" y="178.20" width="19.43" height="1.50" fill="#50478f"/>
<rect x="559.37" y="178.20" width="19.43" height="1.50" fill="#746da5"/>
<rect x="481.03" y="179.70" width="19.73" height="1.00" fill="#d8585c"/>
<rect x="500.77" y="179.70" width="19.73" height="1.00" fill="#d1393d"/>
<rect x="520.50" y="179.70" width="19.43" height="1.00" fill="#5b5295"/>
<rect x="539.93" y="179.70" width="19.43" height="1.00" fill="#7069a3"/>
<rect x="559.37" y="179.70" width="19.43" height="1.00" fill="#433982"/>
<rect x="461.30" y="180.70" width="19.73" height="2.00" fill="#c23034"/>
<rect x="500.77" y="180.70" width="19.73" height="2.00" fill="#d34245"/>
<rect x="520.50" y="180.70" width="19.43" height="2.00" fill="#40377c"/>
<rect x="539.93" y="180.70" width="19.43" height="2.00" fill="#433a84"/>
<rect x="559.37" y="180.70" width="19.43" height="2.00" fill="#564c92"/>
<rect x="461.30" y="182.70" width="19.73" height="1.00" fill="#d34447"/>
<rect x="481.03" y="182.70" width="19.73" height="1.00" fill="#d4464a"/>
<rect x="520.50" y="182.70" width="19.43" height="1.00" fill="#554c91"/>
<rect x="539.93" y="182.70" width="19.43" height="1.00" fill="#584f93"/>
<rect x="559.37" y="182.70" width="19.43" height="1.00" fill="#3f367b"/>
<rect x="461.30" y="183.70" width="19.73" height="1.00" fill="#d65154"/>
<rect x="500.77" y="183.70" width="19.73" height="1.00" fill="#d13b3f"/>
<rect x="559.37" y="183.70" width="19.43" height="1.00" fill="#4f458d"/>
<rect x="461.30" y="184.70" width="19.73" height="1.00" fill="#c83236"/>
<rect x="520.50" y="184.70" width="19.43" height="1.00" fill="#544b91"/>
<rect x="559.37" y="184.70" width="19.43" height="1.00" fill="#413880"/>
<rect x="461.30" y="185.70" width="19.73" height="1.00" fill="#d1383c"/>
<rect x="481.03" y="185.70" width="19.73" height="1.00" fill="#d13c40"/>
<rect x="500.77" y="185.70" width="19.73" height="1.00" fill="#d34548"/>
<rect x="539.93" y="185.70" width="19.43" height="1.00" fill="#554c91"/>
<rect x="559.37" y="185.70" width="19.43" height="1.00" fill="#554c91"/>
<rect x="461.30" y="186.70" width="19.73" height="1.50" fill="#d1393c"/>
<rect x="481.03" y="186.70" width="19.73" height="1.50" fill="#d23e42"/>
<rect x="500.77" y="186.70" width="19.73" height="1.50" fill="#ca3236"/>
<rect x="520.50" y="186.70" width="19.43" height="1.50" fill="#4b418b"/>
<rect x="539.93" y="186.70" width="19.43" height="1.50" fill="#4e448d"/>
<rect x="559.37" y="186.70" width="19.43" height="1.50" fill="#584f93"/>
<rect x="461.30" y="188.20" width="19.73" height="2.00" fill="#cb3236"/>
<rect x="481.03" y="188.20" width="19.73" height="2.00" fill="#d34346"/>
<rect x="520.50" y="188.20" width="19.43" height="2.00" fill="#4e458d"/>
<rect x="539.93" y="188.20" width="19.43" height="2.00" fill="#4f468e"/>
<rect x="481.03" y="190.20" width="19.73" height="2.00" fill="#d13c40"/>
<rect x="520.50" y="190.20" width="19.43" height="2.00" fill="#433a83"/>
<rect x="559.37" y="190.20" width="19.43" height="2.00" fill="#574e93"/>
<rect x="520.50" y="192.20" width="19.43" height="1.00" fill="#605899"/>
<rect x="539.93" y="192.20" width="19.43" height="1.00" fill="#4a418b"/>
<rect x="559.37" y="192.20" width="19.43" height="1.00" fill="#50478e"/>
<rect x="461.30" y="193.20" width="19.73" height="1.50" fill="#d23e42"/>
<rect x="481.03" y="193.20" width="19.73" height="1.50" fill="#d75558"/>
<rect x="520.50" y="193.20" width="19.43" height="1.50" fill="#4d438c"/>
<rect x="559.37" y="193.20" width="19.43" height="1.50" fill="#4a418b"/>
<rect x="460.60" y="197.00" width="9.92" height="4.60" fill="#2a3278" stroke="#4a4a4a" stroke-width="0.35"/>
<rect x="470.52" y="197.00" width="9.92" height="4.60" fill="#3a4a92" stroke="#4a4a4a" stroke-width="0.35"/>
<rect x="480.43" y="197.00" width="9.92" height="4.60" fill="#5a66a8" stroke="#4a4a4a" stroke-width="0.35"/>
<rect x="490.35" y="197.00" width="9.92" height="4.60" fill="#8088ba" stroke="#4a4a4a" stroke-width="0.35"/>
<rect x="500.27" y="197.00" width="9.92" height="4.60" fill="#bcc0da" stroke="#4a4a4a" stroke-width="0.35"/>
<rect x="510.18" y="197.00" width="9.92" height="4.60" fill="#d6d8ea" stroke="#4a4a4a" stroke-width="0.35"/>
<rect x="520.10" y="197.00" width="9.92" height="4.60" fill="#f4d8de" stroke="#4a4a4a" stroke-width="0.35"/>
<rect x="530.02" y="197.00" width="9.92" height="4.60" fill="#eaa4a6" stroke="#4a4a4a" stroke-width="0.35"/>
<rect x="539.93" y="197.00" width="9.92" height="4.60" fill="#e48a8c" stroke="#4a4a4a" stroke-width="0.35"/>
<rect x="549.85" y="197.00" width="9.92" height="4.60" fill="#dc6e70" stroke="#4a4a4a" stroke-width="0.35"/>
<rect x="559.77" y="197.00" width="9.92" height="4.60" fill="#d4524f" stroke="#4a4a4a" stroke-width="0.35"/>
<rect x="569.68" y="197.00" width="9.92" height="4.60" fill="#c63a38" stroke="#4a4a4a" stroke-width="0.35"/>
<text x="460.9" y="209.8" font-size="6.6" fill="#161616" stroke="#161616" stroke-width="0.15">down</text>
<text x="579.6" y="209.8" font-size="6.6" text-anchor="end" fill="#161616" stroke="#161616" stroke-width="0.15">up</text>
<polyline points="595.6,2.5 582.8,52" fill="none" stroke="#222" stroke-width="1"/>
<polyline points="583.0,58.5 595.2,105" fill="none" stroke="#222" stroke-width="1"/>
<polyline points="595.3,115 582.0,190.5" fill="none" stroke="#222" stroke-width="1"/>
<polyline points="583.0,195.2 595.3,213.7" fill="none" stroke="#222" stroke-width="1"/>
<text x="602.5" y="7.4" font-size="7.5" font-weight="bold" fill="#111" stroke="#111" stroke-width="0.15">Top 10:</text>
<text x="602.5" y="16.1" font-size="7.9" font-style="italic" fill="#161616" stroke="#161616" stroke-width="0.15">PARM1</text>
<text x="602.5" y="25.6" font-size="7.9" font-style="italic" fill="#161616" stroke="#161616" stroke-width="0.15">ACACB</text>
<text x="602.5" y="35.0" font-size="7.9" font-style="italic" fill="#161616" stroke="#161616" stroke-width="0.15">GPRIN3</text>
<text x="602.5" y="44.5" font-size="7.9" font-style="italic" fill="#161616" stroke="#161616" stroke-width="0.15">GP2</text>
<text x="602.5" y="53.9" font-size="7.9" font-style="italic" fill="#161616" stroke="#161616" stroke-width="0.15">GABRB2</text>
<text x="602.5" y="63.4" font-size="7.9" font-style="italic" fill="#161616" stroke="#161616" stroke-width="0.15">GABRA1</text>
<text x="602.5" y="72.8" font-size="7.9" font-style="italic" fill="#161616" stroke="#161616" stroke-width="0.15">MUC5B</text>
<text x="602.5" y="82.2" font-size="7.9" font-style="italic" fill="#161616" stroke="#161616" stroke-width="0.15">SI</text>
<text x="602.5" y="91.7" font-size="7.9" font-style="italic" fill="#161616" stroke="#161616" stroke-width="0.15">PLCXD3</text>
<text x="602.5" y="101.2" font-size="7.9" font-style="italic" fill="#161616" stroke="#161616" stroke-width="0.15">MAPK4</text>
<text x="601.5" y="122.4" font-size="7.5" font-weight="bold" fill="#111" stroke="#111" stroke-width="0.15">Bottom 10:</text>
<text x="602.5" y="131.4" font-size="7.9" font-style="italic" fill="#161616" stroke="#161616" stroke-width="0.15">MIR27B</text>
<text x="602.5" y="140.8" font-size="7.9" font-style="italic" fill="#161616" stroke="#161616" stroke-width="0.15">PKIA</text>
<text x="602.5" y="150.3" font-size="7.9" font-style="italic" fill="#161616" stroke="#161616" stroke-width="0.15">MROH2A</text>
<text x="602.5" y="159.8" font-size="7.9" font-style="italic" fill="#161616" stroke="#161616" stroke-width="0.15">MYOZ1</text>
<text x="602.5" y="169.2" font-size="7.9" font-style="italic" fill="#161616" stroke="#161616" stroke-width="0.15">RAMP3</text>
<text x="602.5" y="178.7" font-size="7.9" font-style="italic" fill="#161616" stroke="#161616" stroke-width="0.15">CAV1</text>
<text x="602.5" y="188.1" font-size="7.9" font-style="italic" fill="#161616" stroke="#161616" stroke-width="0.15">VIM-AS1</text>
<text x="602.5" y="197.6" font-size="7.9" font-style="italic" fill="#161616" stroke="#161616" stroke-width="0.15">OLFML3</text>
<text x="602.5" y="207.0" font-size="7.9" font-style="italic" fill="#161616" stroke="#161616" stroke-width="0.15">ARHGAP36</text>
<text x="602.5" y="216.4" font-size="7.9" font-style="italic" fill="#161616" stroke="#161616" stroke-width="0.15">TMTC1</text>
<text x="5.2" y="236.0" font-size="12.5" font-weight="bold" fill="#111" stroke="#111" stroke-width="0.15">d</text>
<text x="110.3" y="244.5" font-size="9.6" text-anchor="middle" fill="#161616" stroke="#161616" stroke-width="0.15">Enrichment plot: Hallmark Estrogen</text>
<text x="110.0" y="255.0" font-size="9.6" text-anchor="middle" fill="#161616" stroke="#161616" stroke-width="0.15">Reponse Early</text>
<line x1="62.6" y1="263.2" x2="62.6" y2="406.0" stroke="#e6e6e6" stroke-width="0.6"/>
<line x1="92.3" y1="263.2" x2="92.3" y2="406.0" stroke="#e6e6e6" stroke-width="0.6"/>
<line x1="122.0" y1="263.2" x2="122.0" y2="406.0" stroke="#e6e6e6" stroke-width="0.6"/>
<line x1="151.7" y1="263.2" x2="151.7" y2="406.0" stroke="#e6e6e6" stroke-width="0.6"/>
<line x1="181.4" y1="263.2" x2="181.4" y2="406.0" stroke="#e6e6e6" stroke-width="0.6"/>
<line x1="32.9" y1="264.0" x2="191.3" y2="264.0" stroke="#eeeeee" stroke-width="0.6"/>
<line x1="32.9" y1="273.6" x2="191.3" y2="273.6" stroke="#eeeeee" stroke-width="0.6"/>
<line x1="32.9" y1="293.0" x2="191.3" y2="293.0" stroke="#eeeeee" stroke-width="0.6"/>
<line x1="32.9" y1="302.6" x2="191.3" y2="302.6" stroke="#eeeeee" stroke-width="0.6"/>
<line x1="32.9" y1="312.3" x2="191.3" y2="312.3" stroke="#eeeeee" stroke-width="0.6"/>
<line x1="32.9" y1="322.0" x2="191.3" y2="322.0" stroke="#eeeeee" stroke-width="0.6"/>
<line x1="32.9" y1="331.7" x2="191.3" y2="331.7" stroke="#eeeeee" stroke-width="0.6"/>
<rect x="32.90" y="332.40" width="158.40" height="22.50" fill="#ffffff"/>
<rect x="32.70" y="333.00" width="3.50" height="21.90" fill="#050505"/>
<rect x="36.50" y="333.00" width="1.00" height="21.90" fill="#464646"/>
<rect x="37.70" y="333.00" width="0.80" height="21.90" fill="#0a0a0a"/>
<rect x="38.90" y="333.00" width="1.00" height="21.90" fill="#787878"/>
<rect x="39.90" y="333.00" width="1.00" height="21.90" fill="#0a0a0a"/>
<rect x="41.00" y="333.00" width="1.30" height="21.90" fill="#6e6e6e"/>
<rect x="42.40" y="333.00" width="0.90" height="21.90" fill="#0a0a0a"/>
<rect x="43.60" y="333.00" width="1.20" height="21.90" fill="#828282"/>
<rect x="44.90" y="333.00" width="1.00" height="21.90" fill="#0f0f0f"/>
<rect x="46.20" y="333.00" width="1.00" height="21.90" fill="#464646"/>
<rect x="47.40" y="333.00" width="1.00" height="21.90" fill="#0a0a0a"/>
<rect x="48.60" y="333.00" width="1.30" height="21.90" fill="#a0a0a0"/>
<rect x="50.20" y="333.00" width="0.90" height="21.90" fill="#0f0f0f"/>
<rect x="51.60" y="333.00" width="1.30" height="21.90" fill="#3c3c3c"/>
<rect x="54.80" y="333.00" width="1.50" height="21.90" fill="#bebebe"/>
<rect x="57.00" y="333.00" width="2.80" height="21.90" fill="#080808"/>
<rect x="59.80" y="333.00" width="1.20" height="21.90" fill="#5a5a5a"/>
<rect x="61.00" y="333.00" width="1.20" height="21.90" fill="#828282"/>
<rect x="62.20" y="333.00" width="1.30" height="21.90" fill="#a0a0a0"/>
<rect x="64.10" y="333.00" width="3.70" height="21.90" fill="#282828"/>
<rect x="67.80" y="333.00" width="1.60" height="21.90" fill="#969696"/>
<rect x="72.20" y="333.00" width="1.00" height="21.90" fill="#0f0f0f"/>
<rect x="76.20" y="333.00" width="1.60" height="21.90" fill="#141414"/>
<rect x="79.60" y="333.00" width="1.30" height="21.90" fill="#141414"/>
<rect x="81.50" y="333.00" width="1.20" height="21.90" fill="#141414"/>
<rect x="84.30" y="333.00" width="2.80" height="21.90" fill="#828282"/>
<rect x="87.70" y="333.00" width="0.70" height="21.90" fill="#141414"/>
<rect x="116.80" y="333.00" width="1.90" height="21.90" fill="#787878"/>
<rect x="120.90" y="333.00" width="0.90" height="21.90" fill="#141414"/>
<rect x="124.90" y="333.00" width="1.20" height="21.90" fill="#282828"/>
<rect x="126.70" y="333.00" width="5.00" height="21.90" fill="#646464"/>
<rect x="134.20" y="333.00" width="3.70" height="21.90" fill="#787878"/>
<rect x="139.80" y="333.00" width="1.80" height="21.90" fill="#282828"/>
<rect x="146.00" y="333.00" width="1.20" height="21.90" fill="#646464"/>
<rect x="147.80" y="333.00" width="1.90" height="21.90" fill="#aaaaaa"/>
<rect x="155.90" y="333.00" width="1.90" height="21.90" fill="#1e1e1e"/>
<rect x="159.20" y="333.00" width="1.80" height="21.90" fill="#787878"/>
<rect x="162.00" y="333.00" width="2.20" height="21.90" fill="#828282"/>
<rect x="167.00" y="333.00" width="1.90" height="21.90" fill="#141414"/>
<rect x="172.70" y="333.00" width="4.90" height="21.90" fill="#323232"/>
<rect x="178.20" y="333.00" width="1.30" height="21.90" fill="#0f0f0f"/>
<rect x="180.50" y="333.00" width="1.20" height="21.90" fill="#787878"/>
<rect x="182.60" y="333.00" width="1.20" height="21.90" fill="#141414"/>
<defs><linearGradient id="gd" x1="0" x2="1" y1="0" y2="0"><stop offset="0.00%" stop-color="#cf3646"/><stop offset="21.86%" stop-color="#da4454"/><stop offset="28.58%" stop-color="#e06a7a"/><stop offset="30.90%" stop-color="#e8a4b8"/><stop offset="32.56%" stop-color="#eeb6ca"/><stop offset="54.71%" stop-color="#ecbad0"/><stop offset="55.50%" stop-color="#cfcde6"/><stop offset="78.85%" stop-color="#c6c6e0"/><stop offset="80.31%" stop-color="#6c6cb2"/><stop offset="100.00%" stop-color="#3a3a90"/></linearGradient></defs>
<rect x="32.90" y="354.90" width="150.80" height="5.70" fill="url(#gd)"/>
<line x1="32.9" y1="283.3" x2="191.3" y2="283.3" stroke="#9a9a9a" stroke-width="0.7"/>
<line x1="32.9" y1="332.4" x2="191.3" y2="332.4" stroke="#b0b0b0" stroke-width="0.6"/>
<path d="M33.3,383.5 L33.3,373.5 L34.5,376.0 L37.0,378.0 L42.0,379.3 L50.0,380.2 L60.0,381.0 L75.0,381.9 L90.0,382.6 L105.0,383.2 L116.0,383.5 L116.0,383.5 Z M116.0,383.5 L116.0,383.6 L130.0,384.0 L145.0,384.6 L160.0,385.5 L170.0,386.8 L176.0,388.8 L179.0,391.5 L181.5,395.5 L183.0,400.0 L183.7,404.2 L183.7,383.5 Z" fill="#b3b3b3" stroke="#9a9a9a" stroke-width="0.4"/>
<line x1="32.9" y1="383.5" x2="191.3" y2="383.5" stroke="#c8c8c8" stroke-width="0.5"/>
<rect x="32.9" y="263.2" width="158.4" height="142.8" fill="none" stroke="#6e6e6e" stroke-width="0.9"/>
<line x1="26.4" y1="264.0" x2="32.9" y2="264.0" stroke="#333" stroke-width="0.8"/>
<text x="23.1" y="266.1" font-size="5.9" text-anchor="end" fill="#161616" stroke="#161616" stroke-width="0.15">0.2</text>
<line x1="26.4" y1="273.6" x2="32.9" y2="273.6" stroke="#333" stroke-width="0.8"/>
<text x="23.1" y="275.7" font-size="5.9" text-anchor="end" fill="#161616" stroke="#161616" stroke-width="0.15">0.1</text>
<line x1="26.4" y1="283.3" x2="32.9" y2="283.3" stroke="#333" stroke-width="0.8"/>
<text x="23.1" y="285.4" font-size="5.9" text-anchor="end" fill="#161616" stroke="#161616" stroke-width="0.15">0</text>
<line x1="26.4" y1="293.0" x2="32.9" y2="293.0" stroke="#333" stroke-width="0.8"/>
<text x="23.1" y="295.1" font-size="5.9" text-anchor="end" fill="#161616" stroke="#161616" stroke-width="0.15">-0.1</text>
<line x1="26.4" y1="302.6" x2="32.9" y2="302.6" stroke="#333" stroke-width="0.8"/>
<text x="23.1" y="304.7" font-size="5.9" text-anchor="end" fill="#161616" stroke="#161616" stroke-width="0.15">-0.2</text>
<line x1="26.4" y1="312.3" x2="32.9" y2="312.3" stroke="#333" stroke-width="0.8"/>
<text x="23.1" y="314.4" font-size="5.9" text-anchor="end" fill="#161616" stroke="#161616" stroke-width="0.15">-0.3</text>
<line x1="26.4" y1="322.0" x2="32.9" y2="322.0" stroke="#333" stroke-width="0.8"/>
<text x="23.1" y="324.1" font-size="5.9" text-anchor="end" fill="#161616" stroke="#161616" stroke-width="0.15">-0.4</text>
<line x1="26.4" y1="331.7" x2="32.9" y2="331.7" stroke="#333" stroke-width="0.8"/>
<text x="23.1" y="333.8" font-size="5.9" text-anchor="end" fill="#161616" stroke="#161616" stroke-width="0.15">-0.5</text>
<line x1="26.4" y1="372.5" x2="32.9" y2="372.5" stroke="#333" stroke-width="0.8"/>
<text x="23.1" y="374.6" font-size="5.9" text-anchor="end" fill="#161616" stroke="#161616" stroke-width="0.15">2.5</text>
<line x1="26.4" y1="383.5" x2="32.9" y2="383.5" stroke="#333" stroke-width="0.8"/>
<text x="23.1" y="385.6" font-size="5.9" text-anchor="end" fill="#161616" stroke="#161616" stroke-width="0.15">0</text>
<line x1="26.4" y1="394.5" x2="32.9" y2="394.5" stroke="#333" stroke-width="0.8"/>
<text x="23.1" y="396.6" font-size="5.9" text-anchor="end" fill="#161616" stroke="#161616" stroke-width="0.15">-2.5</text>
<text x="11.0" y="304.0" font-size="6.75" text-anchor="middle" fill="#161616" stroke="#161616" stroke-width="0.15" transform="rotate(-90 11.0 304.0)">Enrichment Score (ES)</text>
<text x="11.3" y="380.0" font-size="6.4" text-anchor="middle" fill="#161616" stroke="#161616" stroke-width="0.15" transform="rotate(-90 11.3 380.0)">Ranked List</text>
<polyline points="32.9,283.3 33.5,280.0 34.0,276.6 34.8,272.9 35.5,269.1 36.2,268.2 37.0,267.4 38.5,267.1 40.0,266.8 41.6,266.5 43.2,266.3 44.8,266.0 46.1,266.2 47.4,266.5 48.7,266.7 50.0,266.9 51.3,267.4 52.6,267.8 54.0,268.3 55.3,268.7 56.6,269.2 58.0,269.7 59.3,270.2 60.6,270.7 62.0,271.2 63.3,271.7 64.7,272.3 66.0,272.8 67.2,273.5 68.4,274.1 69.6,274.8 70.8,275.4 72.0,276.1 73.4,276.9 74.8,277.7 76.3,278.5 77.7,279.3 78.9,279.9 80.1,280.6 81.3,281.2 82.6,281.8 83.8,282.5 85.0,283.1 86.3,283.8 87.6,284.5 88.8,285.2 90.1,285.9 91.4,286.6 92.7,287.2 94.0,287.9 95.4,288.5 96.7,289.2 98.0,289.8 99.2,290.4 100.4,291.0 101.6,291.7 102.8,292.3 104.0,292.9 105.3,293.7 106.7,294.4 108.0,295.2 109.3,296.0 110.7,296.7 112.0,297.5 113.3,298.3 114.6,299.0 115.9,299.8 117.3,300.5 118.6,301.3 119.9,302.0 121.2,302.8 122.5,303.6 123.7,304.3 125.0,305.1 126.2,305.9 127.5,306.7 128.7,307.4 130.0,308.2 131.4,309.0 132.8,309.9 134.2,310.7 135.5,311.5 136.9,312.4 138.3,313.2 139.6,314.0 141.0,314.9 142.3,315.7 143.7,316.6 145.0,317.4 146.2,318.1 147.4,318.8 148.6,319.4 149.8,320.1 151.0,320.8 152.2,321.6 153.5,322.4 154.8,323.2 156.0,324.0 157.7,324.9 159.4,325.8 161.2,326.4 163.0,327.0 164.5,326.9 166.0,326.8 167.3,326.9 168.6,327.0 169.6,327.6 170.6,328.1 171.6,328.7 172.6,329.2 173.4,328.4 174.2,327.6 175.4,324.9 176.6,322.2 177.7,319.5 178.8,316.8 179.7,314.0 180.5,311.2 181.1,308.4 181.6,305.6 182.0,301.1 182.4,296.6 182.8,290.1 183.1,283.6" fill="none" stroke="#5db544" stroke-width="1.5" stroke-linejoin="round"/>
<text x="187.0" y="269.5" font-size="6.8" text-anchor="end" fill="#161616" stroke="#161616" stroke-width="0.15">FDR: 0.049</text>
<text x="33.1" y="367.2" font-size="7" fill="#d8353a" stroke="#d8353a" stroke-width="0.15">up in shKMT2C-R (positively correlated)</text>
<text x="189.1" y="403.5" font-size="7.05" text-anchor="end" fill="#3b4aa0" stroke="#3b4aa0" stroke-width="0.15">down in shKMT2C-R (negatively correlated)</text>
<text x="76.4" y="385.7" font-size="3.2" fill="#161616" stroke="#161616" stroke-width="0.15">Zero cross at 8610</text>
<text x="227.7" y="235.3" font-size="12.5" font-weight="bold" fill="#111" stroke="#111" stroke-width="0.15">e</text>
<text x="330.4" y="241.2" font-size="9.6" text-anchor="middle" fill="#161616" stroke="#161616" stroke-width="0.15">Enrichment plot: Hallmark Estrogen</text>
<text x="330.1" y="251.7" font-size="9.6" text-anchor="middle" fill="#161616" stroke="#161616" stroke-width="0.15">Reponse Early</text>
<line x1="280.9" y1="260.2" x2="280.9" y2="404.5" stroke="#e6e6e6" stroke-width="0.6"/>
<line x1="310.6" y1="260.2" x2="310.6" y2="404.5" stroke="#e6e6e6" stroke-width="0.6"/>
<line x1="340.3" y1="260.2" x2="340.3" y2="404.5" stroke="#e6e6e6" stroke-width="0.6"/>
<line x1="370.0" y1="260.2" x2="370.0" y2="404.5" stroke="#e6e6e6" stroke-width="0.6"/>
<line x1="399.7" y1="260.2" x2="399.7" y2="404.5" stroke="#e6e6e6" stroke-width="0.6"/>
<line x1="251.2" y1="269.2" x2="408.9" y2="269.2" stroke="#eeeeee" stroke-width="0.6"/>
<line x1="251.2" y1="279.4" x2="408.9" y2="279.4" stroke="#eeeeee" stroke-width="0.6"/>
<line x1="251.2" y1="299.8" x2="408.9" y2="299.8" stroke="#eeeeee" stroke-width="0.6"/>
<line x1="251.2" y1="310.0" x2="408.9" y2="310.0" stroke="#eeeeee" stroke-width="0.6"/>
<line x1="251.2" y1="320.2" x2="408.9" y2="320.2" stroke="#eeeeee" stroke-width="0.6"/>
<line x1="251.2" y1="330.4" x2="408.9" y2="330.4" stroke="#eeeeee" stroke-width="0.6"/>
<rect x="251.20" y="329.40" width="157.70" height="23.20" fill="#ffffff"/>
<rect x="251.70" y="330.00" width="5.00" height="22.60" fill="#050505"/>
<rect x="256.70" y="330.00" width="3.70" height="22.60" fill="#3c3c3c"/>
<rect x="260.40" y="330.00" width="1.00" height="22.60" fill="#aaaaaa"/>
<rect x="262.30" y="330.00" width="1.00" height="22.60" fill="#464646"/>
<rect x="264.10" y="330.00" width="1.30" height="22.60" fill="#141414"/>
<rect x="265.40" y="330.00" width="1.00" height="22.60" fill="#505050"/>
<rect x="267.30" y="330.00" width="1.30" height="22.60" fill="#8c8c8c"/>
<rect x="269.30" y="330.00" width="2.90" height="22.60" fill="#2d2d2d"/>
<rect x="273.40" y="330.00" width="1.30" height="22.60" fill="#8c8c8c"/>
<rect x="275.30" y="330.00" width="1.90" height="22.60" fill="#787878"/>
<rect x="277.20" y="330.00" width="1.20" height="22.60" fill="#aaaaaa"/>
<rect x="278.40" y="330.00" width="1.60" height="22.60" fill="#828282"/>
<rect x="283.40" y="330.00" width="1.80" height="22.60" fill="#8c8c8c"/>
<rect x="285.20" y="330.00" width="1.90" height="22.60" fill="#505050"/>
<rect x="287.70" y="330.00" width="1.20" height="22.60" fill="#0f0f0f"/>
<rect x="289.60" y="330.00" width="1.20" height="22.60" fill="#8c8c8c"/>
<rect x="292.00" y="330.00" width="1.90" height="22.60" fill="#323232"/>
<rect x="293.90" y="330.00" width="1.00" height="22.60" fill="#8c8c8c"/>
<rect x="295.10" y="330.00" width="1.90" height="22.60" fill="#191919"/>
<rect x="298.90" y="330.00" width="3.10" height="22.60" fill="#5a5a5a"/>
<rect x="303.60" y="330.00" width="1.50" height="22.60" fill="#969696"/>
<rect x="305.70" y="330.00" width="1.90" height="22.60" fill="#3c3c3c"/>
<rect x="308.20" y="330.00" width="1.20" height="22.60" fill="#0f0f0f"/>
<rect x="338.90" y="330.00" width="0.90" height="22.60" fill="#141414"/>
<rect x="346.60" y="330.00" width="1.90" height="22.60" fill="#1e1e1e"/>
<rect x="349.70" y="330.00" width="2.50" height="22.60" fill="#969696"/>
<rect x="355.90" y="330.00" width="4.40" height="22.60" fill="#787878"/>
<rect x="362.10" y="330.00" width="1.30" height="22.60" fill="#1e1e1e"/>
<rect x="365.20" y="330.00" width="1.20" height="22.60" fill="#b4b4b4"/>
<rect x="371.40" y="330.00" width="3.70" height="22.60" fill="#6e6e6e"/>
<rect x="375.10" y="330.00" width="1.80" height="22.60" fill="#1e1e1e"/>
<rect x="378.30" y="330.00" width="1.20" height="22.60" fill="#1e1e1e"/>
<rect x="382.00" y="330.00" width="5.60" height="22.60" fill="#787878"/>
<rect x="388.20" y="330.00" width="1.80" height="22.60" fill="#1e1e1e"/>
<rect x="391.90" y="330.00" width="3.10" height="22.60" fill="#0a0a0a"/>
<rect x="396.90" y="330.00" width="1.20" height="22.60" fill="#141414"/>
<rect x="398.70" y="330.00" width="1.20" height="22.60" fill="#6e6e6e"/>
<rect x="401.80" y="330.00" width="1.20" height="22.60" fill="#141414"/>
<defs><linearGradient id="ge" x1="0" x2="1" y1="0" y2="0"><stop offset="0.00%" stop-color="#cf3646"/><stop offset="22.35%" stop-color="#da4454"/><stop offset="29.29%" stop-color="#e06a7a"/><stop offset="31.60%" stop-color="#e8a4b8"/><stop offset="33.25%" stop-color="#eeb6ca"/><stop offset="56.86%" stop-color="#ecbad0"/><stop offset="57.65%" stop-color="#cfcde6"/><stop offset="79.55%" stop-color="#c6c6e0"/><stop offset="81.00%" stop-color="#6c6cb2"/><stop offset="100.00%" stop-color="#3a3a90"/></linearGradient></defs>
<rect x="251.70" y="352.60" width="151.60" height="5.90" fill="url(#ge)"/>
<line x1="251.2" y1="289.6" x2="408.9" y2="289.6" stroke="#9a9a9a" stroke-width="0.7"/>
<line x1="251.2" y1="329.4" x2="408.9" y2="329.4" stroke="#b0b0b0" stroke-width="0.6"/>
<path d="M251.6,381.4 L251.6,370.5 L253.0,373.5 L256.0,375.5 L262.0,377.0 L270.0,378.2 L285.0,379.4 L300.0,380.3 L320.0,381.0 L338.0,381.4 L338.0,381.4 Z M338.0,381.4 L338.0,381.5 L350.0,381.9 L365.0,382.5 L380.0,383.5 L390.0,384.8 L396.0,386.6 L400.0,389.0 L402.0,393.0 L403.3,399.5 L403.3,381.4 Z" fill="#b3b3b3" stroke="#9a9a9a" stroke-width="0.4"/>
<line x1="251.2" y1="381.4" x2="408.9" y2="381.4" stroke="#c8c8c8" stroke-width="0.5"/>
<rect x="251.2" y="260.2" width="157.7" height="144.3" fill="none" stroke="#6e6e6e" stroke-width="0.9"/>
<line x1="244.7" y1="269.2" x2="251.2" y2="269.2" stroke="#333" stroke-width="0.8"/>
<text x="243.6" y="271.3" font-size="5.9" text-anchor="end" fill="#161616" stroke="#161616" stroke-width="0.15">0.2</text>
<line x1="244.7" y1="279.4" x2="251.2" y2="279.4" stroke="#333" stroke-width="0.8"/>
<text x="243.6" y="281.5" font-size="5.9" text-anchor="end" fill="#161616" stroke="#161616" stroke-width="0.15">0.1</text>
<line x1="244.7" y1="289.6" x2="251.2" y2="289.6" stroke="#333" stroke-width="0.8"/>
<text x="243.6" y="291.7" font-size="5.9" text-anchor="end" fill="#161616" stroke="#161616" stroke-width="0.15">0</text>
<line x1="244.7" y1="299.8" x2="251.2" y2="299.8" stroke="#333" stroke-width="0.8"/>
<text x="243.6" y="301.9" font-size="5.9" text-anchor="end" fill="#161616" stroke="#161616" stroke-width="0.15">-0.1</text>
<line x1="244.7" y1="310.0" x2="251.2" y2="310.0" stroke="#333" stroke-width="0.8"/>
<text x="243.6" y="312.1" font-size="5.9" text-anchor="end" fill="#161616" stroke="#161616" stroke-width="0.15">-0.2</text>
<line x1="244.7" y1="320.2" x2="251.2" y2="320.2" stroke="#333" stroke-width="0.8"/>
<text x="243.6" y="322.3" font-size="5.9" text-anchor="end" fill="#161616" stroke="#161616" stroke-width="0.15">-0.3</text>
<line x1="244.7" y1="330.4" x2="251.2" y2="330.4" stroke="#333" stroke-width="0.8"/>
<text x="243.6" y="332.5" font-size="5.9" text-anchor="end" fill="#161616" stroke="#161616" stroke-width="0.15">-0.4</text>
<line x1="244.7" y1="370.1" x2="251.2" y2="370.1" stroke="#333" stroke-width="0.8"/>
<text x="243.6" y="372.2" font-size="5.9" text-anchor="end" fill="#161616" stroke="#161616" stroke-width="0.15">2.5</text>
<line x1="244.7" y1="381.4" x2="251.2" y2="381.4" stroke="#333" stroke-width="0.8"/>
<text x="243.6" y="383.5" font-size="5.9" text-anchor="end" fill="#161616" stroke="#161616" stroke-width="0.15">0</text>
<line x1="244.7" y1="392.6" x2="251.2" y2="392.6" stroke="#333" stroke-width="0.8"/>
<text x="243.6" y="394.8" font-size="5.9" text-anchor="end" fill="#161616" stroke="#161616" stroke-width="0.15">-2.5</text>
<text x="230.8" y="299.0" font-size="6.75" text-anchor="middle" fill="#161616" stroke="#161616" stroke-width="0.15" transform="rotate(-90 230.8 299.0)">Enrichment Score (ES)</text>
<text x="231.1" y="379.3" font-size="5.7" text-anchor="middle" fill="#161616" stroke="#161616" stroke-width="0.15" transform="rotate(-90 231.1 379.3)">Ranked List</text>
<polyline points="251.2,289.6 251.8,285.1 252.5,280.6 253.2,277.6 254.0,274.6 255.0,272.4 256.0,270.1 257.5,268.4 259.0,266.6 260.5,265.5 262.0,264.4 263.5,264.1 265.0,263.8 266.5,263.5 267.9,263.7 269.2,263.9 270.6,264.0 272.0,264.2 273.3,264.4 274.7,264.7 276.0,264.9 277.5,265.4 278.9,265.9 280.4,266.3 281.9,266.8 283.1,267.4 284.3,267.9 285.6,268.5 286.8,269.0 288.0,269.6 289.3,270.2 290.6,270.8 291.9,271.4 293.2,272.0 294.5,272.6 295.8,273.2 297.2,274.2 298.7,275.2 300.1,276.1 301.6,277.1 303.0,278.1 304.4,279.0 305.7,279.9 307.1,280.8 308.5,281.7 309.8,282.6 311.2,283.5 312.6,284.6 314.1,285.8 315.6,287.0 317.0,288.1 318.3,289.1 319.7,290.2 321.0,291.2 322.4,292.3 323.7,293.3 325.1,294.2 326.5,295.2 327.9,296.1 329.2,297.1 330.6,298.1 332.0,299.0 333.2,299.8 334.4,300.5 335.6,301.3 336.9,302.1 338.1,302.9 339.3,303.6 340.5,304.4 341.7,305.1 342.9,305.9 344.1,306.6 345.4,307.4 346.6,308.1 347.8,308.9 349.0,309.6 350.4,310.4 351.7,311.1 353.1,311.9 354.5,312.7 355.8,313.4 357.2,314.2 358.6,315.0 359.9,315.9 361.3,316.7 362.6,317.6 364.0,318.4 365.4,319.2 366.9,320.1 368.3,320.9 369.8,321.8 371.2,322.6 372.6,323.2 374.1,323.9 375.6,324.6 377.0,325.2 378.3,325.5 379.6,325.7 381.0,326.0 382.3,326.2 383.9,326.1 385.4,326.1 387.0,326.0 388.5,325.6 390.0,325.2 391.1,324.6 392.1,324.0 393.6,322.6 395.0,321.1 396.4,318.4 397.7,315.6 398.7,313.6 399.7,311.6 400.5,308.7 401.3,305.8 401.8,302.2 402.3,298.6 402.8,293.9 403.3,289.1" fill="none" stroke="#5db544" stroke-width="1.5" stroke-linejoin="round"/>
<text x="407.4" y="267.6" font-size="6.8" text-anchor="end" fill="#161616" stroke="#161616" stroke-width="0.15">FDR: 0.110482</text>
<text x="251.4" y="364.6" font-size="7" fill="#d8353a" stroke="#d8353a" stroke-width="0.15">up in shKMT2C-R (positively correlated)</text>
<text x="406.7" y="401.4" font-size="7.05" text-anchor="end" fill="#3b4aa0" stroke="#3b4aa0" stroke-width="0.15">down in shKMT2C-R (negatively correlated)</text>
<text x="294.7" y="383.6" font-size="3.2" fill="#161616" stroke="#161616" stroke-width="0.15">Zero cross at 10661</text>
<line x1="113.7" y1="418.7" x2="126.6" y2="418.7" stroke="#5db544" stroke-width="0.9"/>
<text x="132.3" y="421.5" font-size="8.2" fill="#161616" stroke="#161616" stroke-width="0.15">Enrichment Profile</text>
<line x1="205.8" y1="418.7" x2="219.0" y2="418.7" stroke="#111" stroke-width="1.0"/>
<text x="223.0" y="421.5" font-size="8.2" fill="#161616" stroke="#161616" stroke-width="0.15">Hits</text>
<line x1="244.2" y1="418.7" x2="254.5" y2="418.7" stroke="#aaaaaa" stroke-width="0.9"/>
<text x="259.0" y="421.5" font-size="8.2" fill="#161616" stroke="#161616" stroke-width="0.15">Ranking Metric Scores</text>
<text x="438.6" y="235.6" font-size="12.5" font-weight="bold" fill="#111" stroke="#111" stroke-width="0.15">f</text>
<line x1="463.4" y1="242.9" x2="474.3" y2="242.9" stroke="#27328a" stroke-width="0.9"/>
<circle cx="468.9" cy="242.9" r="2.4" fill="#27328a"/>
<text x="477.5" y="246.0" font-size="9" fill="#161616" stroke="#161616" stroke-width="0.15">DMSO</text>
<line x1="463.4" y1="252.7" x2="474.3" y2="252.7" stroke="#e2352f" stroke-width="0.9"/>
<rect x="466.74" y="250.54" width="4.32" height="4.32" fill="#e2352f"/>
<text x="477.5" y="255.8" font-size="9" fill="#161616" stroke="#161616" stroke-width="0.15">1nM E2</text>
<line x1="463.4" y1="262.5" x2="474.3" y2="262.5" stroke="#2e9a5e" stroke-width="0.9"/>
<polygon points="466.5,264.7 471.3,264.7 468.9,260.3" fill="#2e9a5e"/>
<text x="477.5" y="265.6" font-size="9" fill="#161616" stroke="#161616" stroke-width="0.15">100nM Fulv.</text>
<line x1="463.4" y1="272.2" x2="474.3" y2="272.2" stroke="#8e78b8" stroke-width="0.9"/>
<polygon points="466.5,270.0 471.3,270.0 468.9,274.4" fill="#8e78b8"/>
<text x="477.5" y="275.3" font-size="9" fill="#161616" stroke="#161616" stroke-width="0.15">100nM 9496</text>
<line x1="536.2" y1="241.5" x2="547.0" y2="241.5" stroke="#111111" stroke-width="0.9"/>
<circle cx="541.6" cy="241.5" r="2.5" fill="#111111"/>
<text x="550.0" y="244.6" font-size="9" fill="#161616" stroke="#161616" stroke-width="0.15">100nM 1917</text>
<line x1="536.2" y1="251.9" x2="547.0" y2="251.9" stroke="#a8904a" stroke-width="0.9"/>
<polygon points="539.2,254.1 544.0,254.1 541.6,249.7" fill="#a8904a"/>
<text x="550.0" y="255.0" font-size="9" fill="#161616" stroke="#161616" stroke-width="0.15">100nM 927</text>
<line x1="536.2" y1="262.2" x2="547.0" y2="262.2" stroke="#f0a266" stroke-width="0.9"/>
<polygon points="541.6,259.6 544.2,262.2 541.6,264.8 539.0,262.2" fill="#f0a266"/>
<text x="550.0" y="265.3" font-size="9" fill="#161616" stroke="#161616" stroke-width="0.15">100nM 58668</text>
<line x1="482.3" y1="291.7" x2="482.3" y2="389.4" stroke="#333" stroke-width="0.9"/>
<line x1="482.3" y1="389.4" x2="607.3" y2="389.4" stroke="#333" stroke-width="0.9"/>
<line x1="479.3" y1="389.4" x2="482.3" y2="389.4" stroke="#333" stroke-width="0.8"/>
<text x="478.6" y="391.7" font-size="6.6" text-anchor="end" fill="#161616" stroke="#161616" stroke-width="0.15">0</text>
<line x1="479.3" y1="369.9" x2="482.3" y2="369.9" stroke="#333" stroke-width="0.8"/>
<text x="478.6" y="372.2" font-size="6.6" text-anchor="end" fill="#161616" stroke="#161616" stroke-width="0.15">2000</text>
<line x1="479.3" y1="350.3" x2="482.3" y2="350.3" stroke="#333" stroke-width="0.8"/>
<text x="478.6" y="352.6" font-size="6.6" text-anchor="end" fill="#161616" stroke="#161616" stroke-width="0.15">4000</text>
<line x1="479.3" y1="330.8" x2="482.3" y2="330.8" stroke="#333" stroke-width="0.8"/>
<text x="478.6" y="333.1" font-size="6.6" text-anchor="end" fill="#161616" stroke="#161616" stroke-width="0.15">6000</text>
<line x1="479.3" y1="311.2" x2="482.3" y2="311.2" stroke="#333" stroke-width="0.8"/>
<text x="478.6" y="313.5" font-size="6.6" text-anchor="end" fill="#161616" stroke="#161616" stroke-width="0.15">8000</text>
<line x1="479.3" y1="291.7" x2="482.3" y2="291.7" stroke="#333" stroke-width="0.8"/>
<text x="478.6" y="294.0" font-size="6.6" text-anchor="end" fill="#161616" stroke="#161616" stroke-width="0.15">10000</text>
<line x1="482.3" y1="389.4" x2="482.3" y2="393.4" stroke="#333" stroke-width="0.8"/>
<text x="483.5" y="400.2" font-size="6.6" text-anchor="middle" fill="#161616" stroke="#161616" stroke-width="0.15">0</text>
<line x1="513.6" y1="389.4" x2="513.6" y2="393.4" stroke="#333" stroke-width="0.8"/>
<text x="514.8" y="400.2" font-size="6.6" text-anchor="middle" fill="#161616" stroke="#161616" stroke-width="0.15">2</text>
<line x1="544.8" y1="389.4" x2="544.8" y2="393.4" stroke="#333" stroke-width="0.8"/>
<text x="546.0" y="400.2" font-size="6.6" text-anchor="middle" fill="#161616" stroke="#161616" stroke-width="0.15">4</text>
<line x1="576.1" y1="389.4" x2="576.1" y2="393.4" stroke="#333" stroke-width="0.8"/>
<text x="577.3" y="400.2" font-size="6.6" text-anchor="middle" fill="#161616" stroke="#161616" stroke-width="0.15">6</text>
<line x1="607.3" y1="389.4" x2="607.3" y2="393.4" stroke="#333" stroke-width="0.8"/>
<text x="608.5" y="400.2" font-size="6.6" text-anchor="middle" fill="#161616" stroke="#161616" stroke-width="0.15">8</text>
<text x="560.9" y="410.6" font-size="7.8" text-anchor="middle" fill="#161616" stroke="#161616" stroke-width="0.15">Time (Days)</text>
<text x="457.4" y="337.8" font-size="7.8" text-anchor="middle" fill="#161616" stroke="#161616" stroke-width="0.15" transform="rotate(-90 457.4 337.8)">Flourescence at 560nM</text>
<polyline points="482.3,385.3 529.2,379.6 560.5,374.5 591.7,374.5" fill="none" stroke="#111111" stroke-width="0.8"/>
<circle cx="482.3" cy="385.3" r="2.2" fill="#111111"/>
<circle cx="529.2" cy="379.6" r="2.2" fill="#111111"/>
<circle cx="560.5" cy="374.5" r="2.2" fill="#111111"/>
<circle cx="591.7" cy="374.5" r="2.2" fill="#111111"/>
<polyline points="482.3,385.7 529.2,380.1 560.5,375.2 591.7,375.2" fill="none" stroke="#8e78b8" stroke-width="0.8"/>
<polygon points="480.1,383.7 484.5,383.7 482.3,387.7" fill="#8e78b8"/>
<polygon points="527.0,378.1 531.4,378.1 529.2,382.1" fill="#8e78b8"/>
<polygon points="558.2,373.3 562.7,373.3 560.5,377.2" fill="#8e78b8"/>
<polygon points="589.5,373.3 593.9,373.3 591.7,377.2" fill="#8e78b8"/>
<polyline points="482.3,386.0 529.2,380.6 560.5,376.1 591.7,376.1" fill="none" stroke="#2e9a5e" stroke-width="0.8"/>
<polygon points="480.1,388.0 484.5,388.0 482.3,384.0" fill="#2e9a5e"/>
<polygon points="527.0,382.6 531.4,382.6 529.2,378.6" fill="#2e9a5e"/>
<polygon points="558.2,378.1 562.7,378.1 560.5,374.1" fill="#2e9a5e"/>
<polygon points="589.5,378.1 593.9,378.1 591.7,374.1" fill="#2e9a5e"/>
<polyline points="482.3,385.5 529.2,379.6 560.5,374.0 591.7,373.8" fill="none" stroke="#a8904a" stroke-width="0.8"/>
<polygon points="480.1,387.5 484.5,387.5 482.3,383.5" fill="#a8904a"/>
<polygon points="527.0,381.6 531.4,381.6 529.2,377.6" fill="#a8904a"/>
<polygon points="558.2,375.9 562.7,375.9 560.5,372.0" fill="#a8904a"/>
<polygon points="589.5,375.7 593.9,375.7 591.7,371.8" fill="#a8904a"/>
<polyline points="482.3,385.7 529.2,379.1 560.5,372.6 591.7,372.6" fill="none" stroke="#f0a266" stroke-width="0.8"/>
<polygon points="482.3,383.3 484.7,385.7 482.3,388.1 479.9,385.7" fill="#f0a266"/>
<polygon points="529.2,376.7 531.6,379.1 529.2,381.6 526.8,379.1" fill="#f0a266"/>
<polygon points="560.5,370.2 562.9,372.6 560.5,375.0 558.0,372.6" fill="#f0a266"/>
<polygon points="591.7,370.2 594.1,372.6 591.7,375.0 589.3,372.6" fill="#f0a266"/>
<polyline points="482.3,384.5 529.2,375.7 560.5,352.0 591.7,321.5" fill="none" stroke="#27328a" stroke-width="0.8"/>
<circle cx="482.3" cy="384.5" r="2.2" fill="#27328a"/>
<circle cx="529.2" cy="375.7" r="2.2" fill="#27328a"/>
<circle cx="560.5" cy="352.0" r="2.2" fill="#27328a"/>
<circle cx="591.7" cy="321.5" r="2.2" fill="#27328a"/>
<polyline points="482.3,385.7 529.2,366.9 560.5,324.4 591.7,305.6" fill="none" stroke="#e2352f" stroke-width="0.8"/>
<rect x="480.32" y="383.71" width="3.96" height="3.96" fill="#e2352f"/>
<rect x="527.21" y="364.95" width="3.96" height="3.96" fill="#e2352f"/>
<rect x="558.47" y="322.45" width="3.96" height="3.96" fill="#e2352f"/>
<rect x="589.73" y="303.59" width="3.96" height="3.96" fill="#e2352f"/>
<text x="7.3" y="462.5" font-size="12.5" font-weight="bold" fill="#111" stroke="#111" stroke-width="0.15">g</text>
<rect x="28.00" y="447.20" width="11.40" height="4.50" fill="#2d4f99"/>
<text x="42.6" y="452.8" font-size="9" fill="#161616" stroke="#161616" stroke-width="0.15">TCGA Luminal A/B Breast Cancer (n=592)</text>
<rect x="28.00" y="459.20" width="11.40" height="4.50" fill="#df2a33"/>
<text x="42.6" y="464.8" font-size="9" fill="#161616" stroke="#161616" stroke-width="0.15">MSKCC (n=39)</text>
<line x1="51.2" y1="476.2" x2="51.2" y2="581.0" stroke="#333" stroke-width="0.9"/>
<line x1="51.2" y1="581.0" x2="192.2" y2="581.0" stroke="#333" stroke-width="0.9"/>
<line x1="51.2" y1="581.0" x2="51.2" y2="584.0" stroke="#333" stroke-width="0.8"/>
<text x="51.2" y="592.6" font-size="8.4" text-anchor="middle" fill="#161616" stroke="#161616" stroke-width="0.15">0</text>
<line x1="79.4" y1="581.0" x2="79.4" y2="584.0" stroke="#333" stroke-width="0.8"/>
<text x="79.4" y="592.6" font-size="8.4" text-anchor="middle" fill="#161616" stroke="#161616" stroke-width="0.15">10</text>
<line x1="107.6" y1="581.0" x2="107.6" y2="584.0" stroke="#333" stroke-width="0.8"/>
<text x="107.6" y="592.6" font-size="8.4" text-anchor="middle" fill="#161616" stroke="#161616" stroke-width="0.15">20</text>
<line x1="135.8" y1="581.0" x2="135.8" y2="584.0" stroke="#333" stroke-width="0.8"/>
<text x="135.8" y="592.6" font-size="8.4" text-anchor="middle" fill="#161616" stroke="#161616" stroke-width="0.15">30</text>
<line x1="164.0" y1="581.0" x2="164.0" y2="584.0" stroke="#333" stroke-width="0.8"/>
<text x="164.0" y="592.6" font-size="8.4" text-anchor="middle" fill="#161616" stroke="#161616" stroke-width="0.15">40</text>
<line x1="192.2" y1="581.0" x2="192.2" y2="584.0" stroke="#333" stroke-width="0.8"/>
<text x="192.2" y="592.6" font-size="8.4" text-anchor="middle" fill="#161616" stroke="#161616" stroke-width="0.15">50</text>
<rect x="51.20" y="480.20" width="86.86" height="4.50" fill="#df2a33"/>
<rect x="51.20" y="488.00" width="25.38" height="4.50" fill="#2d4f99"/>
<line x1="48.2" y1="486.4" x2="51.2" y2="486.4" stroke="#333" stroke-width="0.8"/>
<text x="46.5" y="489.6" font-size="9" text-anchor="end" font-style="italic" fill="#161616" stroke="#161616" stroke-width="0.15">KMT2C</text>
<rect x="51.20" y="501.45" width="123.23" height="4.50" fill="#df2a33"/>
<rect x="51.20" y="509.25" width="53.58" height="4.50" fill="#2d4f99"/>
<line x1="48.2" y1="507.6" x2="51.2" y2="507.6" stroke="#333" stroke-width="0.8"/>
<text x="46.5" y="510.8" font-size="9" text-anchor="end" font-style="italic" fill="#161616" stroke="#161616" stroke-width="0.15">TP53</text>
<rect x="51.20" y="522.70" width="101.52" height="4.50" fill="#df2a33"/>
<rect x="51.20" y="530.50" width="121.54" height="4.50" fill="#2d4f99"/>
<line x1="48.2" y1="528.9" x2="51.2" y2="528.9" stroke="#333" stroke-width="0.8"/>
<text x="46.5" y="532.1" font-size="9" text-anchor="end" font-style="italic" fill="#161616" stroke="#161616" stroke-width="0.15">PIK3CA</text>
<rect x="51.20" y="543.95" width="65.42" height="4.50" fill="#df2a33"/>
<rect x="51.20" y="551.75" width="8.46" height="4.50" fill="#2d4f99"/>
<line x1="48.2" y1="550.2" x2="51.2" y2="550.2" stroke="#333" stroke-width="0.8"/>
<text x="46.5" y="553.4" font-size="9" text-anchor="end" font-style="italic" fill="#161616" stroke="#161616" stroke-width="0.15">ESR1</text>
<rect x="51.20" y="565.20" width="57.81" height="4.50" fill="#df2a33"/>
<rect x="51.20" y="573.00" width="45.12" height="4.50" fill="#2d4f99"/>
<line x1="48.2" y1="571.4" x2="51.2" y2="571.4" stroke="#333" stroke-width="0.8"/>
<text x="46.5" y="574.6" font-size="9" text-anchor="end" font-style="italic" fill="#161616" stroke="#161616" stroke-width="0.15">GATA3</text>
<text x="127.1" y="608.6" font-size="9" text-anchor="middle" fill="#161616" stroke="#161616" stroke-width="0.15">Mutation Frequency (%)</text>
<text x="7.6" y="524.3" font-size="9" text-anchor="middle" fill="#161616" stroke="#161616" stroke-width="0.15" transform="rotate(-90 7.6 524.3)">Gene Name</text>
<text x="248.8" y="456.3" font-size="12.5" font-weight="bold" fill="#111" stroke="#111" stroke-width="0.15">h</text>
<line x1="298.3" y1="636.4" x2="298.3" y2="456.6" stroke="#555" stroke-width="1.0"/>
<line x1="291.5" y1="636.4" x2="298.3" y2="636.4" stroke="#555" stroke-width="0.9"/>
<text x="283.0" y="637.1" font-size="8.6" text-anchor="middle" fill="#161616" stroke="#161616" stroke-width="0.15" transform="rotate(-90 283.0 637.1)">0.0</text>
<line x1="291.5" y1="600.4" x2="298.3" y2="600.4" stroke="#555" stroke-width="0.9"/>
<text x="283.0" y="601.1" font-size="8.6" text-anchor="middle" fill="#161616" stroke="#161616" stroke-width="0.15" transform="rotate(-90 283.0 601.1)">0.2</text>
<line x1="291.5" y1="564.5" x2="298.3" y2="564.5" stroke="#555" stroke-width="0.9"/>
<text x="283.0" y="565.2" font-size="8.6" text-anchor="middle" fill="#161616" stroke="#161616" stroke-width="0.15" transform="rotate(-90 283.0 565.2)">0.4</text>
<line x1="291.5" y1="528.5" x2="298.3" y2="528.5" stroke="#555" stroke-width="0.9"/>
<text x="283.0" y="529.2" font-size="8.6" text-anchor="middle" fill="#161616" stroke="#161616" stroke-width="0.15" transform="rotate(-90 283.0 529.2)">0.6</text>
<line x1="291.5" y1="492.6" x2="298.3" y2="492.6" stroke="#555" stroke-width="0.9"/>
<text x="283.0" y="493.3" font-size="8.6" text-anchor="middle" fill="#161616" stroke="#161616" stroke-width="0.15" transform="rotate(-90 283.0 493.3)">0.8</text>
<line x1="291.5" y1="456.6" x2="298.3" y2="456.6" stroke="#555" stroke-width="0.9"/>
<text x="283.0" y="457.3" font-size="8.6" text-anchor="middle" fill="#161616" stroke="#161616" stroke-width="0.15" transform="rotate(-90 283.0 457.3)">1.0</text>
<line x1="297.9" y1="644.8" x2="501.9" y2="644.8" stroke="#555" stroke-width="1.0"/>
<line x1="297.9" y1="644.8" x2="297.9" y2="651.3" stroke="#555" stroke-width="0.9"/>
<text x="297.9" y="664.8" font-size="9.2" text-anchor="middle" fill="#161616" stroke="#161616" stroke-width="0.15">0</text>
<line x1="348.9" y1="644.8" x2="348.9" y2="651.3" stroke="#555" stroke-width="0.9"/>
<text x="348.9" y="664.8" font-size="9.2" text-anchor="middle" fill="#161616" stroke="#161616" stroke-width="0.15">10</text>
<line x1="399.9" y1="644.8" x2="399.9" y2="651.3" stroke="#555" stroke-width="0.9"/>
<text x="399.9" y="664.8" font-size="9.2" text-anchor="middle" fill="#161616" stroke="#161616" stroke-width="0.15">20</text>
<line x1="450.9" y1="644.8" x2="450.9" y2="651.3" stroke="#555" stroke-width="0.9"/>
<text x="450.9" y="664.8" font-size="9.2" text-anchor="middle" fill="#161616" stroke="#161616" stroke-width="0.15">30</text>
<line x1="501.9" y1="644.8" x2="501.9" y2="651.3" stroke="#555" stroke-width="0.9"/>
<text x="501.9" y="664.8" font-size="9.2" text-anchor="middle" fill="#161616" stroke="#161616" stroke-width="0.15">40</text>
<text x="397.0" y="683.6" font-size="9.3" text-anchor="middle" fill="#161616" stroke="#161616" stroke-width="0.15">Months on AI</text>
<text x="259.0" y="550.2" font-size="9.5" text-anchor="middle" fill="#161616" stroke="#161616" stroke-width="0.15" transform="rotate(-90 259.0 550.2)">Progression-Free Survival</text>
<polyline points="297.9,456.6 299.9,456.6 299.9,456.6 302.2,456.6 302.2,457.1 304.6,457.1 304.6,458.8 307.3,458.8 307.3,463.1 309.6,463.1 309.6,467.8 312.2,467.8 312.2,475.6 313.0,475.6 313.0,478.3 314.7,478.3 314.7,484.4 317.4,484.4 317.4,491.5 319.5,491.5 319.5,495.0 322.1,495.0 322.1,498.3 323.1,498.3 323.1,499.4 324.8,499.4 324.8,501.1 326.1,501.1 326.1,502.4 328.0,502.4 328.0,504.2 329.9,504.2 329.9,506.8 330.7,506.8 330.7,507.9 331.9,507.9 331.9,509.4 333.3,509.4 333.3,511.6 335.9,511.6 335.9,515.9 338.2,515.9 338.2,519.5 339.3,519.5 339.3,521.0 341.7,521.0 341.7,524.2 342.8,524.2 342.8,525.6 344.8,525.6 344.8,528.7 345.8,528.7 345.8,530.3 346.6,530.3 346.6,531.5 349.1,531.5 349.1,535.7 350.3,535.7 350.3,537.7 351.5,537.7 351.5,539.7 354.3,539.7 354.3,543.7 356.8,543.7 356.8,547.0 358.2,547.0 358.2,548.7 360.9,548.7 360.9,549.7 362.8,549.7 362.8,550.4 364.9,550.4 364.9,551.2 366.1,551.2 366.1,551.7 368.8,551.7 368.8,553.0 371.0,553.0 371.0,554.0 373.7,554.0 373.7,556.7 376.3,556.7 376.3,559.4 377.7,559.4 377.7,560.7 379.2,560.7 379.2,562.2 380.3,562.2 380.3,563.3 381.3,563.3 381.3,564.8 382.2,564.8 382.2,566.1 383.6,566.1 383.6,568.2 385.6,568.2 385.6,570.6 386.4,570.6 386.4,570.8 388.5,570.8 388.5,571.5 390.0,571.5 390.0,572.0 391.4,572.0 391.4,572.5 393.8,572.5 393.8,573.6 395.5,573.6 395.5,574.4 397.0,574.4 397.0,575.1 398.7,575.1 398.7,576.0 400.9,576.0 400.9,577.1 401.8,577.1 401.8,577.5 404.5,577.5 404.5,578.9 405.4,578.9 405.4,579.3 407.6,579.3 407.6,580.4 410.1,580.4 410.1,581.6 410.9,581.6 410.9,582.0 413.3,582.0 413.3,583.2 414.8,583.2 414.8,583.9 416.8,583.9 416.8,584.8 417.6,584.8 417.6,585.2 418.4,585.2 418.4,585.6 419.5,585.6 419.5,586.1 422.3,586.1 422.3,587.0 423.4,587.0 423.4,587.3 425.7,587.3 425.7,588.0 428.4,588.0 428.4,588.7 431.1,588.7 431.1,592.6 432.5,592.6 432.5,594.7 434.0,594.7 434.0,595.9 435.9,595.9 435.9,596.8 438.2,596.8 438.2,598.0 439.2,598.0 439.2,598.5 441.5,598.5 441.5,599.7 443.9,599.7 443.9,600.8 446.4,600.8 446.4,601.5 447.2,601.5 447.2,601.7 449.9,601.7 449.9,602.3 450.9,602.3 450.9,602.6 452.4,602.6 452.4,602.9 454.4,602.9 454.4,603.6 457.0,603.6 457.0,604.6 458.5,604.6 458.5,605.1 461.1,605.1 461.1,606.0 463.0,606.0 463.0,606.8 464.4,606.8 464.4,607.4 465.8,607.4 465.8,607.9 466.9,607.9 466.9,608.4 467.9,608.4 467.9,608.8 468.9,608.8 468.9,609.3 471.1,609.3 471.1,609.9 473.9,609.9 473.9,610.6 475.0,610.6 475.0,610.9 475.8,610.9 475.8,611.1 478.6,611.1 478.6,611.8 480.5,611.8 480.5,612.2 482.1,612.2 482.1,612.6 483.3,612.6 483.3,612.9 485.3,612.9 485.3,613.2 487.8,613.2 487.8,613.6 489.4,613.6 489.4,613.9 491.1,613.9 491.1,614.2 491.9,614.2 491.9,614.3 494.6,614.3 494.6,614.3 495.4,614.3 495.4,614.3 497.2,614.3 497.2,614.3 499.7,614.3 499.7,614.3 500.7,614.3 500.7,614.3 501.9,614.3 501.9,614.3" fill="none" stroke="#b4b4b4" stroke-width="1.5"/>
<polyline points="297.9,456.6 310.6,456.6 310.6,456.6 310.6,456.6 310.6,492.6 345.3,492.6 345.3,492.6 345.3,492.6 345.3,528.5 380.5,528.5 380.5,528.5 380.5,528.5 380.5,564.5 501.9,564.5 501.9,564.5" fill="none" stroke="#6cb34f" stroke-width="1.5"/>
<polyline points="297.9,456.6 307.1,456.6 307.1,456.6 307.1,456.6 307.1,468.1 309.6,468.1 309.6,468.1 309.6,468.1 309.6,490.0 312.2,490.0 312.2,490.0 312.2,490.0 312.2,502.1 321.6,502.1 321.6,502.1 321.6,502.1 321.6,514.1 329.0,514.1 329.0,514.1 329.0,514.1 329.0,526.4 331.3,526.4 331.3,526.4 331.3,526.4 331.3,551.4 335.1,551.4 335.1,551.4 335.1,551.4 335.1,563.0 346.3,563.0 346.3,563.0 346.3,563.0 346.3,575.3 351.4,575.3 351.4,575.3 351.4,575.3 351.4,587.9 369.8,587.9 369.8,587.9 369.8,587.9 369.8,600.4 398.9,600.4 398.9,600.4 398.9,600.4 398.9,618.8 453.4,618.8 453.4,618.8 453.4,618.8 453.4,637.8" fill="none" stroke="#2b5b92" stroke-width="1.5"/>
<line x1="381.9" y1="459.3" x2="392.2" y2="459.3" stroke="#6cb34f" stroke-width="1.8"/>
<text x="395.6" y="462" font-size="8.6" fill="#222"><tspan font-style="italic">KMT2C</tspan> Missense Mutations, n = 5</text>
<text x="395.6" y="470.8" font-size="8.6" fill="#161616" stroke="#161616" stroke-width="0.15">Median PFS: 16.1m; 95% CI: 9.2, NR</text>
<line x1="381.9" y1="480.6" x2="392.2" y2="480.6" stroke="#2b5b92" stroke-width="1.8"/>
<text x="395.6" y="483.3" font-size="8.6" fill="#222"><tspan font-style="italic">KMT2C</tspan> Deletion &amp; Truncating Mutation, n = 18</text>
<text x="395.6" y="492.7" font-size="8.6" fill="#161616" stroke="#161616" stroke-width="0.15">Median PFS: 6.6 m; 95% CI: 4.6, NR</text>
<line x1="381.9" y1="505.4" x2="392.2" y2="505.4" stroke="#b4b4b4" stroke-width="1.8"/>
<text x="395.6" y="507.2" font-size="8.6" fill="#222"><tspan font-style="italic">KMT2C</tspan> Wild-type, n = 260</text>
<text x="395.6" y="517.3" font-size="8.6" fill="#161616" stroke="#161616" stroke-width="0.15">Median PFS: 12.1m; 95% CI: 10.1, 15.6</text>
<line x1="461.9" y1="568.4" x2="464.1" y2="568.4" stroke="#86ad72" stroke-width="0.8"/>
<line x1="464.1" y1="568.4" x2="464.1" y2="584.0" stroke="#86ad72" stroke-width="0.9"/>
<line x1="464.1" y1="584.0" x2="464.1" y2="599.5" stroke="#a8a8a8" stroke-width="0.9"/>
<line x1="461.9" y1="599.5" x2="464.1" y2="599.5" stroke="#a8a8a8" stroke-width="0.8"/>
<text x="468.0" y="584.9" font-size="8.6" fill="#161616" stroke="#161616" stroke-width="0.15">HR (95% CI): 0.76 (0.28, 2.06)</text>
<text x="468.0" y="595.8" font-size="8.6" fill="#161616" stroke="#161616" stroke-width="0.15">p = 0.56</text>
<line x1="462.1" y1="616.2" x2="464.3" y2="616.2" stroke="#b8b8b8" stroke-width="0.8"/>
<line x1="464.3" y1="616.2" x2="464.3" y2="627.6" stroke="#b8b8b8" stroke-width="0.9"/>
<line x1="464.3" y1="627.6" x2="464.3" y2="639.0" stroke="#4f6d92" stroke-width="0.9"/>
<line x1="462.1" y1="639.0" x2="464.3" y2="639.0" stroke="#4f6d92" stroke-width="0.8"/>
<text x="468.0" y="626.8" font-size="8.6" fill="#161616" stroke="#161616" stroke-width="0.15">HR (95% CI):1.80 (1.04, 3.11)</text>
<text x="468.0" y="636.6" font-size="8.6" fill="#161616" stroke="#161616" stroke-width="0.15">p = 0.036</text>
</svg>
</body></html>
